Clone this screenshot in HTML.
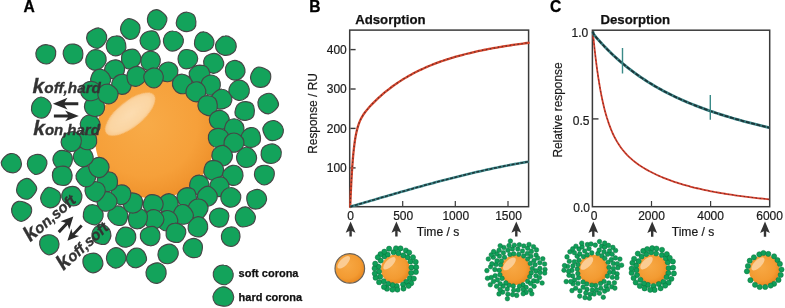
<!DOCTYPE html>
<html><head><meta charset="utf-8"><style>
html,body{margin:0;padding:0;background:#fff;}
svg{display:block;}
</style></head><body>
<svg width="785" height="308" viewBox="0 0 785 308"><defs>
<radialGradient id="coreA" cx="0.42" cy="0.38" r="0.62">
 <stop offset="0" stop-color="#f8ab48"/><stop offset="0.7" stop-color="#f6a03a"/><stop offset="1" stop-color="#ef922c"/>
</radialGradient>
<radialGradient id="hlA" cx="0.5" cy="0.5" r="0.5">
 <stop offset="0" stop-color="#fcdcb0"/><stop offset="0.8" stop-color="#fbd5a2"/><stop offset="1" stop-color="#f9c88c"/>
</radialGradient>
<filter id="soft" x="-20%" y="-20%" width="140%" height="140%"><feGaussianBlur stdDeviation="0.5"/></filter>
<radialGradient id="coreS" cx="0.42" cy="0.40" r="0.62">
 <stop offset="0" stop-color="#f7a844"/><stop offset="0.7" stop-color="#f39b32"/><stop offset="1" stop-color="#e8871f"/>
</radialGradient>
</defs><rect width="785" height="308" fill="#ffffff"/><text x="23.6" y="12.4" font-family="Liberation Sans, sans-serif" font-weight="bold" font-size="15.6" fill="#000" stroke="#000" stroke-width="0.3">A</text><circle cx="155" cy="138.5" r="60" fill="url(#coreA)"/>
<ellipse cx="130.2" cy="114.2" rx="30.5" ry="12.8" transform="rotate(-39 130.2 114.2)" fill="url(#hlA)" filter="url(#soft)"/><path d="M46.8,64.0C44.7,64.2 42.0,63.2 40.3,62.0C38.5,60.7 36.8,58.6 36.2,56.5C35.7,54.4 35.9,51.5 36.9,49.6C37.9,47.8 40.2,46.2 42.1,45.4C44.0,44.6 46.5,44.5 48.5,45.0C50.6,45.4 53.4,46.5 54.5,48.2C55.7,49.8 55.9,52.8 55.6,54.9C55.3,57.1 54.2,59.4 52.7,60.9C51.3,62.4 48.8,63.8 46.8,64.0Z" fill="#13a35b" stroke="#464646" stroke-width="1.15"/><path d="M82.9,53.7C83.0,55.9 82.4,58.7 81.1,60.4C79.8,62.1 77.2,63.3 75.0,63.7C72.9,64.1 70.0,63.9 68.2,62.9C66.4,61.9 64.9,59.5 64.1,57.5C63.3,55.5 62.8,52.9 63.4,50.8C64.0,48.8 65.7,46.3 67.5,45.2C69.4,44.0 72.2,43.8 74.4,44.1C76.6,44.5 79.2,45.6 80.6,47.2C82.1,48.8 82.8,51.5 82.9,53.7Z" fill="#13a35b" stroke="#464646" stroke-width="1.15"/><path d="M92.5,29.7C94.5,28.7 97.0,27.6 99.1,28.0C101.1,28.3 103.6,30.0 104.9,31.8C106.2,33.5 106.9,36.2 106.7,38.3C106.6,40.3 105.4,42.6 104.0,44.2C102.7,45.9 100.6,47.9 98.5,48.3C96.5,48.6 93.7,47.6 91.8,46.4C89.9,45.3 88.1,43.3 87.3,41.2C86.6,39.2 86.5,36.1 87.3,34.2C88.2,32.3 90.6,30.7 92.5,29.7Z" fill="#13a35b" stroke="#464646" stroke-width="1.15"/><path d="M127.6,18.8C129.7,18.3 132.5,19.2 134.5,20.2C136.4,21.3 138.7,23.0 139.5,25.0C140.3,26.9 140.1,29.7 139.5,31.9C138.8,34.0 137.5,36.5 135.7,37.8C133.9,39.0 130.8,39.7 128.7,39.3C126.6,38.9 124.5,37.1 123.1,35.5C121.7,33.8 120.6,31.5 120.5,29.5C120.4,27.5 121.1,25.0 122.3,23.2C123.5,21.4 125.6,19.3 127.6,18.8Z" fill="#13a35b" stroke="#464646" stroke-width="1.15"/><path d="M125.6,43.8C126.1,46.0 126.0,48.8 125.0,50.6C124.0,52.5 121.7,54.2 119.7,55.0C117.7,55.8 115.0,56.1 113.0,55.5C111.0,54.9 108.9,53.1 107.7,51.3C106.6,49.5 106.1,46.9 106.3,44.7C106.6,42.6 107.7,40.1 109.2,38.6C110.7,37.1 113.4,36.1 115.5,36.0C117.7,35.8 120.7,36.4 122.3,37.7C124.0,39.0 125.2,41.7 125.6,43.8Z" fill="#13a35b" stroke="#464646" stroke-width="1.15"/><path d="M91.6,50.5C93.6,49.5 96.6,49.4 98.8,50.0C100.9,50.6 103.4,52.2 104.7,54.0C105.9,55.8 106.4,58.8 106.1,61.0C105.8,63.1 104.3,65.2 102.7,66.8C101.2,68.4 99.0,70.1 96.8,70.3C94.7,70.6 91.7,69.8 89.9,68.6C88.1,67.3 86.4,64.8 85.9,62.6C85.4,60.5 86.0,57.7 86.9,55.7C87.9,53.7 89.7,51.4 91.6,50.5Z" fill="#13a35b" stroke="#464646" stroke-width="1.15"/><path d="M128.8,49.6C131.0,49.1 133.8,48.9 135.7,49.8C137.6,50.7 139.5,53.0 140.2,55.1C141.0,57.1 141.0,59.8 140.3,61.8C139.6,63.8 137.9,65.6 136.2,66.9C134.4,68.1 131.9,69.4 129.8,69.3C127.6,69.2 124.7,67.8 123.3,66.2C121.9,64.6 121.6,61.8 121.6,59.5C121.5,57.3 121.5,54.5 122.8,52.8C124.0,51.2 126.7,50.2 128.8,49.6Z" fill="#13a35b" stroke="#464646" stroke-width="1.15"/><path d="M148.9,25.1C147.8,23.3 147.2,20.8 147.4,18.7C147.6,16.6 148.6,13.9 150.1,12.4C151.6,10.9 154.5,9.6 156.6,9.6C158.7,9.6 161.0,11.2 162.8,12.6C164.5,13.9 166.4,15.9 166.9,17.8C167.3,19.8 166.3,22.4 165.3,24.4C164.3,26.3 162.8,28.6 160.9,29.4C159.0,30.3 156.0,30.0 154.0,29.3C152.0,28.6 150.1,26.9 148.9,25.1Z" fill="#13a35b" stroke="#464646" stroke-width="1.15"/><path d="M193.7,14.8C195.2,16.4 195.8,19.2 195.9,21.5C196.1,23.7 195.7,26.7 194.4,28.3C193.1,30.0 190.3,31.1 188.2,31.5C186.1,31.8 183.6,31.3 181.7,30.4C179.8,29.5 177.5,27.8 176.7,25.9C176.0,24.1 176.3,21.3 177.0,19.3C177.7,17.3 179.1,15.1 180.8,14.0C182.5,12.8 185.0,12.1 187.2,12.2C189.3,12.4 192.2,13.3 193.7,14.8Z" fill="#13a35b" stroke="#464646" stroke-width="1.15"/><path d="M142.7,34.4C144.0,32.9 146.2,31.7 148.3,31.2C150.4,30.8 153.3,30.5 155.1,31.5C156.9,32.4 158.3,35.0 159.1,37.1C159.9,39.2 160.5,42.0 159.9,44.0C159.2,46.1 157.2,48.5 155.3,49.5C153.3,50.5 150.5,50.6 148.4,50.2C146.2,49.7 143.8,48.5 142.5,46.9C141.1,45.3 140.0,42.6 140.0,40.6C140.1,38.5 141.3,36.0 142.7,34.4Z" fill="#13a35b" stroke="#464646" stroke-width="1.15"/><path d="M166.8,33.1C168.4,31.8 171.1,30.9 173.3,31.0C175.5,31.0 178.0,32.0 179.7,33.5C181.4,34.9 183.1,37.4 183.4,39.5C183.7,41.6 182.7,44.4 181.5,46.2C180.3,48.0 178.1,49.7 176.1,50.4C174.1,51.1 171.2,51.3 169.2,50.5C167.3,49.7 165.5,47.5 164.5,45.6C163.6,43.7 163.1,41.1 163.5,39.0C163.9,37.0 165.1,34.4 166.8,33.1Z" fill="#13a35b" stroke="#464646" stroke-width="1.15"/><path d="M213.9,40.6C214.2,42.6 213.7,45.6 212.5,47.3C211.3,49.0 208.9,50.3 206.9,50.9C204.9,51.5 202.3,51.8 200.3,51.1C198.4,50.4 196.1,48.6 195.1,46.7C194.2,44.9 194.4,42.2 194.8,40.1C195.3,38.0 196.2,35.4 197.8,34.1C199.3,32.7 202.2,31.7 204.3,31.9C206.4,32.0 208.7,33.5 210.3,35.0C211.9,36.4 213.5,38.5 213.9,40.6Z" fill="#13a35b" stroke="#464646" stroke-width="1.15"/><path d="M219.1,38.9C220.7,37.4 223.1,36.0 225.2,35.9C227.3,35.7 229.9,36.8 231.7,38.1C233.5,39.3 235.3,41.4 235.9,43.5C236.5,45.5 236.2,48.6 235.2,50.4C234.2,52.3 231.8,53.8 229.9,54.6C227.9,55.3 225.5,55.5 223.4,55.1C221.4,54.6 218.9,53.4 217.6,51.7C216.3,50.0 215.3,47.1 215.5,45.0C215.8,42.8 217.5,40.4 219.1,38.9Z" fill="#13a35b" stroke="#464646" stroke-width="1.15"/><path d="M150.4,70.9C148.3,70.9 145.6,70.0 144.0,68.7C142.4,67.3 141.2,64.7 140.9,62.6C140.6,60.5 141.0,57.9 142.1,56.1C143.1,54.3 145.3,52.5 147.2,51.8C149.2,51.1 151.9,51.1 153.9,51.8C155.9,52.5 158.2,54.2 159.2,56.0C160.3,57.8 160.5,60.7 160.1,62.7C159.6,64.8 158.4,67.2 156.8,68.5C155.2,69.9 152.6,70.9 150.4,70.9Z" fill="#13a35b" stroke="#464646" stroke-width="1.15"/><path d="M188.8,49.7C190.9,50.0 193.5,50.8 194.9,52.3C196.4,53.8 197.7,56.5 197.7,58.6C197.8,60.7 196.5,63.3 195.2,65.0C193.8,66.6 191.6,67.9 189.5,68.4C187.4,68.9 184.5,69.1 182.7,68.1C180.9,67.2 179.3,64.6 178.6,62.6C177.9,60.6 177.8,58.1 178.4,56.1C179.0,54.1 180.5,51.7 182.3,50.6C184.0,49.6 186.7,49.4 188.8,49.7Z" fill="#13a35b" stroke="#464646" stroke-width="1.15"/><path d="M210.4,54.0C212.5,53.4 215.1,53.2 217.0,53.9C219.0,54.6 220.9,56.5 222.0,58.3C223.1,60.1 224.0,62.9 223.7,65.0C223.3,67.1 221.4,69.3 219.7,70.7C218.0,72.1 215.4,73.5 213.3,73.4C211.2,73.3 208.8,71.7 207.2,70.2C205.6,68.7 204.3,66.6 203.9,64.5C203.5,62.4 203.7,59.5 204.8,57.8C205.9,56.0 208.4,54.7 210.4,54.0Z" fill="#13a35b" stroke="#464646" stroke-width="1.15"/><path d="M122.4,62.9C123.8,64.5 124.6,67.2 124.6,69.2C124.6,71.3 123.7,73.7 122.4,75.4C121.2,77.1 119.0,78.9 117.0,79.3C115.0,79.7 112.4,78.9 110.4,77.9C108.5,76.9 106.3,75.2 105.4,73.3C104.5,71.3 104.4,68.2 105.2,66.2C105.9,64.2 108.1,62.4 110.0,61.3C111.9,60.3 114.3,59.7 116.4,59.9C118.5,60.2 121.0,61.4 122.4,62.9Z" fill="#13a35b" stroke="#464646" stroke-width="1.15"/><path d="M171.5,62.5C173.6,63.2 176.0,65.0 177.0,66.9C178.0,68.8 178.1,71.7 177.6,73.8C177.1,75.8 175.7,78.0 174.1,79.3C172.4,80.7 170.0,81.6 167.9,81.7C165.8,81.8 162.9,81.2 161.3,79.8C159.7,78.5 158.7,75.7 158.5,73.6C158.2,71.5 158.5,68.9 159.6,67.0C160.6,65.2 162.7,63.5 164.7,62.7C166.7,62.0 169.5,61.8 171.5,62.5Z" fill="#13a35b" stroke="#464646" stroke-width="1.15"/><path d="M190.9,79.3C189.8,77.3 188.8,74.5 189.2,72.5C189.7,70.5 191.8,68.3 193.5,67.1C195.2,65.9 197.5,65.2 199.7,65.1C201.8,65.1 204.7,65.3 206.4,66.6C208.1,67.9 209.4,70.7 209.8,72.9C210.1,75.1 209.7,78.1 208.5,79.9C207.3,81.8 204.8,83.1 202.7,83.8C200.6,84.6 197.7,85.1 195.7,84.3C193.8,83.5 192.0,81.2 190.9,79.3Z" fill="#13a35b" stroke="#464646" stroke-width="1.15"/><path d="M243.6,65.7C244.6,67.6 245.4,70.3 245.0,72.4C244.5,74.5 242.9,77.1 241.1,78.3C239.4,79.6 236.5,80.3 234.3,80.1C232.2,79.9 229.6,78.7 228.1,77.2C226.6,75.7 225.6,73.2 225.4,71.1C225.2,69.0 225.7,66.3 226.9,64.6C228.0,62.9 230.3,61.3 232.3,60.8C234.3,60.2 236.9,60.5 238.8,61.4C240.7,62.2 242.6,63.9 243.6,65.7Z" fill="#13a35b" stroke="#464646" stroke-width="1.15"/><path d="M252.3,71.9C253.4,70.0 255.3,67.8 257.3,67.2C259.2,66.6 261.9,67.5 264.0,68.3C266.1,69.1 268.6,70.3 269.7,72.1C270.8,73.9 270.9,76.9 270.5,79.1C270.0,81.3 268.7,83.8 267.0,85.2C265.2,86.6 262.4,87.5 260.2,87.4C257.9,87.3 255.1,86.3 253.5,84.8C251.9,83.3 250.8,80.6 250.6,78.4C250.3,76.3 251.1,73.8 252.3,71.9Z" fill="#13a35b" stroke="#464646" stroke-width="1.15"/><path d="M110.7,80.3C110.5,82.4 108.8,84.8 107.3,86.2C105.7,87.7 103.5,88.9 101.4,89.2C99.3,89.4 96.5,89.0 94.7,87.8C93.0,86.7 91.4,84.2 90.9,82.1C90.3,80.1 90.7,77.4 91.6,75.4C92.4,73.4 94.1,71.0 96.0,70.0C97.9,69.1 101.0,69.1 103.1,69.7C105.1,70.4 107.2,72.1 108.5,73.9C109.7,75.6 110.9,78.3 110.7,80.3Z" fill="#13a35b" stroke="#464646" stroke-width="1.15"/><path d="M121.6,94.4C119.5,94.3 117.0,93.0 115.3,91.5C113.6,90.0 112.0,87.7 111.6,85.6C111.3,83.6 112.2,80.8 113.4,79.0C114.6,77.2 116.7,75.7 118.7,74.9C120.6,74.2 123.3,74.0 125.4,74.7C127.4,75.3 129.8,77.1 130.8,79.0C131.8,80.8 131.6,83.6 131.2,85.8C130.8,88.0 129.9,90.6 128.3,92.0C126.7,93.4 123.8,94.5 121.6,94.4Z" fill="#13a35b" stroke="#464646" stroke-width="1.15"/><path d="M145.4,71.4C146.5,73.3 147.0,76.4 146.4,78.4C145.9,80.4 143.8,82.3 142.1,83.6C140.4,85.0 138.1,86.3 136.0,86.4C133.9,86.5 130.9,85.5 129.4,84.1C127.9,82.6 127.2,79.8 127.0,77.7C126.8,75.5 127.0,73.0 128.1,71.2C129.1,69.5 131.3,67.8 133.3,67.1C135.2,66.4 138.0,66.3 140.0,67.0C142.0,67.7 144.3,69.5 145.4,71.4Z" fill="#13a35b" stroke="#464646" stroke-width="1.15"/><path d="M145.1,81.9C144.1,80.0 143.3,77.1 143.9,75.1C144.4,73.1 146.4,71.1 148.2,69.9C149.9,68.7 152.2,67.8 154.3,67.9C156.3,67.9 158.8,68.9 160.3,70.3C161.8,71.6 163.0,74.0 163.3,76.0C163.6,78.0 162.9,80.4 161.9,82.3C160.9,84.2 159.1,86.6 157.1,87.3C155.1,88.1 152.0,87.8 150.0,86.9C148.0,86.0 146.1,83.9 145.1,81.9Z" fill="#13a35b" stroke="#464646" stroke-width="1.15"/><path d="M190.9,89.1C189.9,90.9 187.6,92.5 185.6,93.2C183.6,93.9 180.9,93.8 178.9,93.1C177.0,92.3 174.9,90.6 173.9,88.7C172.8,86.9 172.1,84.2 172.5,82.1C172.8,80.0 174.4,77.5 176.1,76.2C177.8,74.9 180.5,74.1 182.6,74.2C184.7,74.3 187.1,75.4 188.7,76.8C190.3,78.1 191.7,80.4 192.0,82.5C192.4,84.5 192.0,87.3 190.9,89.1Z" fill="#13a35b" stroke="#464646" stroke-width="1.15"/><path d="M217.6,92.0C216.2,93.6 213.6,95.0 211.5,95.2C209.4,95.3 206.6,94.4 204.9,93.1C203.3,91.8 201.9,89.5 201.4,87.5C200.9,85.5 201.0,82.9 201.8,81.0C202.6,79.1 204.4,77.1 206.3,76.2C208.2,75.2 210.9,74.8 213.0,75.2C215.1,75.7 217.7,77.3 218.9,79.0C220.1,80.8 220.5,83.6 220.3,85.8C220.1,87.9 219.1,90.5 217.6,92.0Z" fill="#13a35b" stroke="#464646" stroke-width="1.15"/><path d="M199.2,82.1C201.2,82.7 203.3,84.7 204.4,86.5C205.5,88.3 206.0,91.0 205.7,93.1C205.4,95.2 204.2,97.7 202.6,99.1C201.1,100.6 198.4,101.8 196.3,101.9C194.2,101.9 191.6,100.8 189.9,99.4C188.2,98.1 186.5,95.8 186.0,93.8C185.6,91.7 186.2,88.8 187.3,87.0C188.3,85.2 190.4,83.6 192.4,82.7C194.4,81.9 197.2,81.5 199.2,82.1Z" fill="#13a35b" stroke="#464646" stroke-width="1.15"/><path d="M211.6,96.7C212.1,94.7 214.1,92.7 215.8,91.5C217.5,90.2 219.9,89.1 222.0,89.2C224.1,89.2 226.6,90.3 228.2,91.8C229.8,93.2 231.5,95.5 231.8,97.7C232.2,99.8 231.5,102.9 230.3,104.7C229.1,106.5 226.5,107.7 224.4,108.4C222.3,109.0 219.5,109.4 217.5,108.6C215.5,107.8 213.3,105.7 212.3,103.7C211.4,101.7 211.0,98.8 211.6,96.7Z" fill="#13a35b" stroke="#464646" stroke-width="1.15"/><path d="M238.5,100.4C236.4,100.2 234.1,98.8 232.6,97.3C231.0,95.8 229.2,93.6 228.9,91.5C228.6,89.4 229.6,86.6 230.8,84.8C232.1,82.9 234.3,81.1 236.4,80.5C238.5,79.9 241.5,80.2 243.4,81.1C245.4,82.1 247.4,84.1 248.3,86.1C249.3,88.1 249.7,90.9 249.1,93.0C248.6,95.1 246.8,97.4 245.0,98.6C243.3,99.9 240.5,100.6 238.5,100.4Z" fill="#13a35b" stroke="#464646" stroke-width="1.15"/><path d="M252.8,117.1C251.6,118.7 248.9,119.7 246.9,120.1C244.8,120.5 242.4,120.3 240.5,119.5C238.5,118.6 236.1,116.9 235.3,115.0C234.6,113.1 235.1,110.2 235.8,108.2C236.5,106.2 238.0,104.2 239.7,103.1C241.4,101.9 243.8,101.5 246.0,101.6C248.1,101.7 251.0,102.4 252.4,103.9C253.8,105.4 254.3,108.3 254.4,110.5C254.4,112.7 254.1,115.5 252.8,117.1Z" fill="#13a35b" stroke="#464646" stroke-width="1.15"/><path d="M278.5,105.0C278.3,107.0 276.3,109.1 274.6,110.6C272.9,112.1 270.7,113.7 268.6,113.9C266.5,114.0 263.7,112.8 262.0,111.5C260.2,110.1 258.6,107.7 258.2,105.6C257.7,103.4 258.0,100.4 259.1,98.5C260.2,96.6 262.5,95.0 264.6,94.2C266.7,93.4 269.6,93.0 271.6,93.7C273.5,94.5 275.1,96.7 276.3,98.6C277.5,100.5 278.8,103.0 278.5,105.0Z" fill="#13a35b" stroke="#464646" stroke-width="1.15"/><path d="M208.9,95.7C211.1,95.9 213.8,97.0 215.2,98.5C216.6,100.1 217.1,102.8 217.3,105.0C217.4,107.1 217.2,109.8 216.1,111.6C214.9,113.4 212.4,115.4 210.3,115.8C208.2,116.2 205.6,115.1 203.6,114.1C201.7,113.0 199.8,111.4 198.9,109.5C198.0,107.7 197.6,104.9 198.2,102.8C198.7,100.7 200.3,98.2 202.0,97.0C203.8,95.8 206.7,95.4 208.9,95.7Z" fill="#13a35b" stroke="#464646" stroke-width="1.15"/><path d="M220.0,129.8C217.9,129.8 215.4,129.1 213.7,127.9C212.0,126.7 210.2,124.5 209.7,122.4C209.1,120.4 209.4,117.4 210.4,115.5C211.4,113.6 213.7,111.9 215.7,111.1C217.7,110.4 220.4,110.2 222.4,110.8C224.4,111.5 226.6,113.1 227.8,114.9C228.9,116.6 229.5,119.3 229.2,121.4C228.9,123.5 227.7,126.0 226.2,127.4C224.7,128.8 222.1,129.7 220.0,129.8Z" fill="#13a35b" stroke="#464646" stroke-width="1.15"/><path d="M242.7,134.0C241.7,135.9 239.7,138.2 237.7,138.9C235.7,139.6 232.8,139.0 230.7,138.3C228.7,137.5 226.2,135.9 225.2,134.1C224.2,132.3 224.3,129.5 224.7,127.3C225.1,125.2 226.0,122.6 227.6,121.2C229.1,119.8 231.9,118.7 234.1,118.7C236.3,118.7 239.0,119.8 240.6,121.2C242.3,122.6 243.6,125.1 243.9,127.3C244.3,129.4 243.8,132.0 242.7,134.0Z" fill="#13a35b" stroke="#464646" stroke-width="1.15"/><path d="M208.4,138.8C208.2,136.7 208.6,133.7 209.9,132.0C211.1,130.3 213.8,129.1 215.9,128.6C218.0,128.2 220.4,128.4 222.4,129.2C224.3,129.9 226.7,131.5 227.7,133.3C228.8,135.2 229.2,138.2 228.6,140.3C228.1,142.4 226.2,144.7 224.4,145.9C222.5,147.1 220.0,147.8 217.8,147.7C215.6,147.5 213.0,146.6 211.4,145.1C209.8,143.7 208.7,141.0 208.4,138.8Z" fill="#13a35b" stroke="#464646" stroke-width="1.15"/><path d="M254.5,146.7C252.5,147.5 249.9,147.5 247.9,147.0C245.9,146.4 243.4,145.0 242.3,143.3C241.1,141.6 240.7,138.7 241.0,136.6C241.4,134.5 242.6,132.3 244.1,130.8C245.6,129.3 248.0,127.9 250.2,127.6C252.3,127.4 255.3,128.1 257.0,129.4C258.7,130.7 259.7,133.4 260.2,135.6C260.6,137.8 260.7,140.6 259.8,142.4C258.8,144.3 256.5,145.9 254.5,146.7Z" fill="#13a35b" stroke="#464646" stroke-width="1.15"/><path d="M225.2,148.0C224.1,146.2 223.8,143.2 224.2,141.1C224.6,139.0 226.1,136.7 227.7,135.3C229.3,134.0 231.8,133.0 233.9,133.0C235.9,133.0 238.3,134.0 240.0,135.3C241.6,136.6 243.4,138.6 243.8,140.7C244.3,142.7 243.7,145.5 242.7,147.3C241.7,149.1 239.5,150.7 237.6,151.5C235.6,152.3 233.0,152.5 231.0,151.9C228.9,151.3 226.4,149.8 225.2,148.0Z" fill="#13a35b" stroke="#464646" stroke-width="1.15"/><path d="M268.6,139.7C266.8,138.8 265.3,136.4 264.4,134.4C263.5,132.4 262.4,129.6 263.0,127.6C263.5,125.6 265.7,123.5 267.5,122.3C269.4,121.1 272.0,120.3 274.1,120.5C276.2,120.7 278.7,122.1 280.2,123.6C281.8,125.1 283.2,127.6 283.4,129.8C283.6,131.9 282.8,134.8 281.5,136.6C280.2,138.3 277.7,139.7 275.5,140.2C273.4,140.7 270.5,140.7 268.6,139.7Z" fill="#13a35b" stroke="#464646" stroke-width="1.15"/><path d="M261.1,155.1C260.8,152.9 261.3,150.0 262.5,148.2C263.7,146.5 266.2,145.1 268.4,144.5C270.5,143.9 273.2,143.7 275.2,144.5C277.3,145.3 279.6,147.2 280.6,149.2C281.5,151.1 281.5,154.1 280.9,156.2C280.2,158.2 278.7,160.4 277.0,161.6C275.3,162.8 272.8,163.6 270.7,163.5C268.5,163.5 265.8,162.7 264.2,161.3C262.6,159.9 261.3,157.3 261.1,155.1Z" fill="#13a35b" stroke="#464646" stroke-width="1.15"/><path d="M242.2,148.4C244.2,147.4 247.3,147.1 249.3,147.7C251.4,148.3 253.5,150.2 254.7,152.0C255.9,153.8 256.7,156.2 256.6,158.3C256.5,160.4 255.5,162.9 254.1,164.4C252.7,165.9 250.3,167.0 248.2,167.3C246.1,167.6 243.3,167.4 241.4,166.3C239.6,165.3 237.7,162.9 237.1,160.8C236.4,158.7 236.5,155.8 237.4,153.7C238.3,151.7 240.2,149.5 242.2,148.4Z" fill="#13a35b" stroke="#464646" stroke-width="1.15"/><path d="M264.1,185.0C262.0,184.9 259.5,183.4 257.9,181.9C256.3,180.4 255.0,178.1 254.6,176.0C254.3,173.9 254.6,171.0 255.7,169.2C256.8,167.5 259.4,166.2 261.4,165.6C263.5,165.1 265.9,165.1 267.9,165.8C269.9,166.5 272.5,167.9 273.5,169.7C274.5,171.5 274.4,174.5 273.9,176.6C273.4,178.7 272.1,180.9 270.5,182.3C268.8,183.7 266.2,185.1 264.1,185.0Z" fill="#13a35b" stroke="#464646" stroke-width="1.15"/><path d="M247.7,194.1C248.7,192.3 251.2,191.0 253.2,190.3C255.2,189.5 257.8,189.2 259.7,189.8C261.7,190.4 263.9,192.1 265.0,193.9C266.2,195.7 266.8,198.5 266.4,200.5C266.1,202.6 264.5,204.8 262.9,206.2C261.3,207.6 259.0,208.9 256.8,209.0C254.7,209.2 251.7,208.5 250.0,207.2C248.4,205.8 247.4,203.1 247.0,200.9C246.6,198.7 246.7,195.9 247.7,194.1Z" fill="#13a35b" stroke="#464646" stroke-width="1.15"/><path d="M235.8,214.4C236.4,212.4 237.8,210.2 239.5,209.0C241.2,207.7 243.9,206.7 245.9,206.9C248.0,207.1 250.2,208.8 251.7,210.4C253.3,212.0 255.0,214.1 255.3,216.2C255.6,218.4 254.7,221.5 253.4,223.1C252.0,224.8 249.4,225.6 247.2,226.2C245.0,226.7 242.2,227.3 240.3,226.4C238.5,225.6 236.7,223.0 236.0,221.0C235.2,219.0 235.2,216.4 235.8,214.4Z" fill="#13a35b" stroke="#464646" stroke-width="1.15"/><path d="M223.7,145.4C225.8,145.8 228.0,147.5 229.5,149.1C231.0,150.7 232.3,153.1 232.5,155.2C232.6,157.4 231.6,160.1 230.3,161.8C229.0,163.6 226.5,165.3 224.5,165.7C222.4,166.1 219.7,165.2 217.8,164.1C215.8,163.1 213.7,161.4 212.8,159.5C211.9,157.5 211.6,154.4 212.3,152.4C213.0,150.3 215.0,148.1 216.9,147.0C218.8,145.8 221.6,145.1 223.7,145.4Z" fill="#13a35b" stroke="#464646" stroke-width="1.15"/><path d="M204.3,168.1C204.8,166.0 205.9,163.5 207.5,162.3C209.1,161.0 211.8,160.4 214.0,160.4C216.2,160.5 218.9,161.3 220.5,162.7C222.1,164.1 223.3,166.8 223.6,168.9C223.8,171.1 223.1,173.9 221.9,175.7C220.7,177.4 218.4,178.7 216.3,179.3C214.3,180.0 211.5,180.3 209.6,179.5C207.6,178.8 205.4,176.7 204.5,174.8C203.6,172.9 203.8,170.2 204.3,168.1Z" fill="#13a35b" stroke="#464646" stroke-width="1.15"/><path d="M237.5,184.5C235.6,185.4 232.5,185.6 230.5,184.9C228.4,184.3 226.6,182.4 225.3,180.6C224.0,178.9 222.4,176.3 222.6,174.3C222.7,172.3 224.6,169.9 226.2,168.4C227.8,167.0 230.0,165.7 232.1,165.4C234.2,165.1 237.0,165.5 238.8,166.7C240.6,167.8 242.1,170.3 242.7,172.4C243.3,174.5 243.0,177.2 242.1,179.2C241.3,181.3 239.4,183.6 237.5,184.5Z" fill="#13a35b" stroke="#464646" stroke-width="1.15"/><path d="M193.5,176.9C195.2,175.6 197.9,174.9 200.0,175.1C202.1,175.2 204.5,176.4 206.0,177.8C207.5,179.2 208.5,181.6 208.9,183.6C209.2,185.7 209.1,188.5 208.1,190.4C207.0,192.2 204.6,194.0 202.5,194.6C200.4,195.2 197.6,194.9 195.6,194.0C193.6,193.1 191.3,191.4 190.4,189.5C189.4,187.5 189.4,184.7 190.0,182.6C190.5,180.5 191.9,178.1 193.5,176.9Z" fill="#13a35b" stroke="#464646" stroke-width="1.15"/><path d="M218.4,196.6C216.3,196.4 213.4,195.6 212.0,194.1C210.6,192.6 210.1,189.7 210.0,187.5C209.9,185.3 210.1,182.7 211.3,181.0C212.5,179.3 214.9,178.0 217.0,177.5C219.1,176.9 222.0,176.7 223.8,177.5C225.7,178.4 227.5,180.8 228.3,182.8C229.1,184.8 229.3,187.4 228.8,189.4C228.2,191.5 226.7,193.7 224.9,194.9C223.2,196.1 220.6,196.7 218.4,196.6Z" fill="#13a35b" stroke="#464646" stroke-width="1.15"/><path d="M197.8,193.9C198.4,191.8 200.3,189.8 202.1,188.5C203.9,187.2 206.5,186.0 208.6,186.2C210.6,186.4 212.9,188.2 214.4,189.8C215.8,191.3 217.2,193.6 217.3,195.6C217.5,197.7 216.7,200.2 215.5,201.9C214.3,203.6 212.2,205.0 210.2,205.7C208.2,206.3 205.3,206.6 203.4,205.8C201.4,205.0 199.4,202.8 198.4,200.8C197.5,198.9 197.2,195.9 197.8,193.9Z" fill="#13a35b" stroke="#464646" stroke-width="1.15"/><path d="M234.9,206.3C233.0,207.1 230.4,207.5 228.3,206.9C226.2,206.4 223.8,204.9 222.6,203.2C221.3,201.4 220.6,198.5 220.8,196.3C221.1,194.1 222.4,191.5 224.0,190.1C225.7,188.6 228.4,187.5 230.5,187.5C232.6,187.4 235.1,188.6 236.8,189.8C238.5,191.1 240.2,193.2 240.7,195.2C241.1,197.2 240.6,199.9 239.7,201.8C238.7,203.6 236.8,205.4 234.9,206.3Z" fill="#13a35b" stroke="#464646" stroke-width="1.15"/><path d="M177.1,195.6C177.5,193.5 179.2,191.3 180.8,190.0C182.5,188.6 184.8,187.7 187.0,187.6C189.1,187.6 192.0,188.1 193.6,189.4C195.1,190.7 195.8,193.5 196.2,195.6C196.6,197.8 196.9,200.5 195.9,202.4C195.0,204.3 192.7,206.3 190.6,207.1C188.5,207.9 185.5,208.0 183.4,207.2C181.4,206.4 179.6,204.2 178.5,202.2C177.5,200.3 176.7,197.6 177.1,195.6Z" fill="#13a35b" stroke="#464646" stroke-width="1.15"/><path d="M159.0,200.9C159.7,198.8 161.4,196.6 163.3,195.4C165.1,194.3 168.0,193.4 170.1,193.7C172.3,194.0 174.8,195.7 176.2,197.4C177.5,199.1 178.1,201.7 178.2,203.9C178.3,206.1 177.9,209.0 176.6,210.6C175.3,212.3 172.6,213.5 170.4,213.8C168.3,214.2 165.6,213.9 163.6,212.9C161.7,211.9 159.7,209.8 159.0,207.8C158.2,205.8 158.3,202.9 159.0,200.9Z" fill="#13a35b" stroke="#464646" stroke-width="1.15"/><path d="M163.2,204.3C163.2,206.4 162.0,209.1 160.6,210.7C159.1,212.3 156.6,213.6 154.5,213.9C152.3,214.2 149.6,213.8 147.8,212.7C146.0,211.6 144.2,209.3 143.5,207.3C142.9,205.4 143.2,202.7 143.9,200.7C144.7,198.7 146.2,196.3 148.0,195.4C149.8,194.4 152.6,194.5 154.7,194.9C156.8,195.3 159.2,196.3 160.6,197.8C162.0,199.4 163.2,202.1 163.2,204.3Z" fill="#13a35b" stroke="#464646" stroke-width="1.15"/><path d="M191.8,201.2C193.4,199.8 196.0,199.0 198.2,199.0C200.4,199.0 203.2,199.8 204.9,201.3C206.5,202.7 208.0,205.5 208.1,207.6C208.3,209.8 207.0,212.2 205.8,214.1C204.6,216.0 202.9,218.1 200.9,218.8C198.9,219.5 195.9,219.2 193.9,218.3C192.0,217.4 190.4,215.3 189.5,213.4C188.5,211.5 187.9,208.9 188.2,206.9C188.6,204.9 190.1,202.5 191.8,201.2Z" fill="#13a35b" stroke="#464646" stroke-width="1.15"/><path d="M184.1,224.2C182.0,224.4 179.4,224.2 177.5,223.1C175.7,222.0 173.6,219.7 173.0,217.7C172.5,215.6 173.3,212.9 174.2,210.8C175.1,208.8 176.6,206.4 178.5,205.5C180.4,204.5 183.5,204.3 185.6,204.9C187.6,205.5 189.5,207.4 190.8,209.2C192.1,211.0 193.5,213.4 193.5,215.5C193.4,217.6 191.9,220.3 190.3,221.8C188.8,223.2 186.2,224.0 184.1,224.2Z" fill="#13a35b" stroke="#464646" stroke-width="1.15"/><path d="M176.6,216.2C177.6,218.1 178.0,221.0 177.5,223.1C176.9,225.2 175.1,227.2 173.3,228.6C171.5,229.9 169.0,231.0 166.9,231.0C164.7,231.0 161.9,229.8 160.3,228.3C158.7,226.8 157.4,224.0 157.2,221.9C157.0,219.7 158.0,217.1 159.3,215.2C160.5,213.4 162.6,211.5 164.6,210.9C166.6,210.3 169.5,210.7 171.5,211.6C173.5,212.5 175.6,214.2 176.6,216.2Z" fill="#13a35b" stroke="#464646" stroke-width="1.15"/><path d="M161.2,225.7C159.8,227.2 157.7,228.6 155.7,229.0C153.7,229.4 151.0,229.1 149.2,228.1C147.4,227.1 145.8,225.0 145.0,223.1C144.2,221.1 143.9,218.4 144.5,216.4C145.1,214.4 146.9,212.0 148.7,210.9C150.5,209.8 153.4,209.4 155.5,209.8C157.6,210.2 159.9,211.6 161.4,213.3C162.8,214.9 164.1,217.5 164.0,219.6C164.0,221.6 162.6,224.1 161.2,225.7Z" fill="#13a35b" stroke="#464646" stroke-width="1.15"/><path d="M194.7,236.3C192.6,235.6 190.2,234.0 189.2,232.2C188.1,230.4 187.9,227.4 188.3,225.4C188.7,223.3 190.2,221.2 191.8,219.7C193.4,218.2 195.8,216.7 197.9,216.6C200.0,216.5 202.9,217.7 204.5,219.1C206.1,220.6 207.3,223.1 207.6,225.2C208.0,227.4 207.5,230.0 206.5,231.8C205.5,233.7 203.5,235.6 201.5,236.4C199.5,237.1 196.7,237.0 194.7,236.3Z" fill="#13a35b" stroke="#464646" stroke-width="1.15"/><path d="M211.1,212.0C212.3,210.4 214.5,209.0 216.5,208.5C218.5,207.9 221.0,208.0 223.0,208.8C225.0,209.5 227.4,211.2 228.3,213.1C229.2,214.9 228.8,217.8 228.2,219.9C227.6,222.0 226.4,224.4 224.7,225.6C223.1,226.8 220.3,227.3 218.2,227.1C216.1,226.8 213.7,225.8 212.3,224.3C210.8,222.9 209.7,220.4 209.5,218.4C209.3,216.3 209.9,213.7 211.1,212.0Z" fill="#13a35b" stroke="#464646" stroke-width="1.15"/><path d="M222.8,241.9C221.7,240.2 221.2,237.7 221.4,235.6C221.6,233.6 222.6,231.2 224.0,229.8C225.5,228.3 227.8,227.2 229.9,227.0C232.0,226.7 234.8,227.2 236.4,228.4C238.1,229.6 239.4,232.1 239.8,234.1C240.3,236.1 240.0,238.6 239.2,240.5C238.4,242.4 236.7,244.6 234.8,245.5C233.0,246.4 230.1,246.6 228.1,246.0C226.1,245.4 224.0,243.7 222.8,241.9Z" fill="#13a35b" stroke="#464646" stroke-width="1.15"/><path d="M190.3,239.0C192.2,238.4 194.9,238.2 196.9,239.0C198.8,239.7 200.9,241.7 201.8,243.6C202.6,245.4 202.5,248.0 202.1,250.1C201.7,252.3 200.9,255.2 199.3,256.4C197.7,257.6 194.6,257.8 192.5,257.6C190.3,257.4 188.1,256.3 186.5,254.9C185.0,253.5 183.4,251.2 183.2,249.2C182.9,247.2 183.8,244.5 185.0,242.8C186.2,241.1 188.3,239.6 190.3,239.0Z" fill="#13a35b" stroke="#464646" stroke-width="1.15"/><path d="M168.8,225.7C170.2,224.3 172.8,223.2 174.8,223.1C176.9,222.9 179.3,223.6 181.1,224.7C182.9,225.8 185.0,227.7 185.6,229.7C186.2,231.6 185.5,234.4 184.6,236.4C183.8,238.4 182.2,240.8 180.3,241.7C178.4,242.7 175.6,242.6 173.4,242.1C171.2,241.6 168.6,240.4 167.3,238.7C166.1,236.9 165.9,234.0 166.1,231.8C166.4,229.7 167.3,227.2 168.8,225.7Z" fill="#13a35b" stroke="#464646" stroke-width="1.15"/><path d="M168.0,263.7C165.9,263.8 163.0,263.2 161.4,261.9C159.7,260.6 158.4,257.9 158.1,255.8C157.7,253.6 158.4,250.9 159.5,249.1C160.7,247.4 162.8,245.9 164.8,245.1C166.7,244.3 169.4,243.8 171.5,244.4C173.5,245.0 176.0,246.9 177.1,248.7C178.2,250.6 178.4,253.7 177.9,255.7C177.4,257.8 175.7,259.8 174.0,261.2C172.4,262.5 170.1,263.5 168.0,263.7Z" fill="#13a35b" stroke="#464646" stroke-width="1.15"/><path d="M159.8,238.2C159.3,240.2 158.1,242.5 156.5,243.8C155.0,245.1 152.4,245.8 150.4,245.8C148.3,245.7 146.0,244.8 144.3,243.5C142.7,242.2 141.0,240.1 140.5,238.0C140.0,235.9 140.4,232.8 141.6,231.0C142.7,229.3 145.2,228.1 147.4,227.3C149.5,226.6 152.3,225.9 154.3,226.6C156.2,227.3 158.2,229.6 159.2,231.6C160.1,233.5 160.2,236.1 159.8,238.2Z" fill="#13a35b" stroke="#464646" stroke-width="1.15"/><path d="M141.2,208.8C143.3,209.5 145.8,211.4 146.8,213.3C147.8,215.2 147.5,218.1 147.1,220.2C146.6,222.3 145.7,224.6 144.2,226.0C142.6,227.5 140.1,228.6 138.0,228.8C135.8,228.9 132.8,228.2 131.2,226.8C129.6,225.4 128.8,222.6 128.5,220.5C128.2,218.3 128.4,215.9 129.3,214.0C130.3,212.1 132.1,209.9 134.1,209.0C136.1,208.2 139.1,208.1 141.2,208.8Z" fill="#13a35b" stroke="#464646" stroke-width="1.15"/><path d="M133.2,243.9C131.8,245.4 129.4,246.7 127.3,247.0C125.2,247.4 122.4,247.1 120.5,246.1C118.6,245.0 116.5,242.8 115.9,240.8C115.3,238.7 116.1,236.0 116.9,233.9C117.7,231.9 119.1,229.5 120.9,228.4C122.7,227.3 125.6,227.0 127.8,227.4C130.0,227.8 132.5,229.2 133.9,230.9C135.2,232.6 135.9,235.5 135.8,237.6C135.7,239.8 134.6,242.3 133.2,243.9Z" fill="#13a35b" stroke="#464646" stroke-width="1.15"/><path d="M124.8,253.3C125.7,255.3 126.2,258.0 125.7,260.0C125.3,262.0 123.7,264.2 122.0,265.5C120.3,266.9 117.8,268.2 115.7,268.2C113.6,268.1 110.9,266.7 109.4,265.2C107.9,263.7 106.7,261.3 106.5,259.2C106.3,257.1 106.9,254.6 108.0,252.8C109.1,251.0 111.0,248.9 113.0,248.2C115.0,247.5 118.0,247.7 119.9,248.6C121.9,249.4 123.8,251.4 124.8,253.3Z" fill="#13a35b" stroke="#464646" stroke-width="1.15"/><path d="M134.1,248.4C136.1,247.8 139.0,248.0 140.8,248.9C142.7,249.9 144.3,252.0 145.2,254.0C146.1,255.9 146.9,258.7 146.3,260.7C145.8,262.6 143.6,264.5 141.8,265.6C140.0,266.8 137.6,267.9 135.5,267.8C133.4,267.7 130.7,266.6 129.2,265.1C127.6,263.5 126.4,260.8 126.4,258.7C126.3,256.5 127.5,254.1 128.8,252.4C130.1,250.7 132.1,249.0 134.1,248.4Z" fill="#13a35b" stroke="#464646" stroke-width="1.15"/><path d="M157.2,283.4C155.1,283.6 152.4,282.6 150.5,281.4C148.7,280.1 146.9,277.9 146.3,275.7C145.7,273.6 146.0,270.6 147.0,268.7C148.0,266.7 150.2,265.0 152.3,264.1C154.3,263.2 157.1,262.5 159.2,263.0C161.2,263.6 163.7,265.5 164.8,267.3C166.0,269.1 166.4,271.9 166.1,274.0C165.9,276.1 164.8,278.5 163.3,280.1C161.8,281.6 159.4,283.2 157.2,283.4Z" fill="#13a35b" stroke="#464646" stroke-width="1.15"/><path d="M110.2,238.8C109.4,240.8 107.6,243.3 105.7,244.1C103.8,244.9 100.9,244.3 98.8,243.6C96.7,243.0 94.2,241.8 93.1,240.1C92.0,238.4 91.7,235.6 92.0,233.5C92.3,231.5 93.4,229.2 94.8,227.7C96.3,226.2 98.6,224.6 100.7,224.4C102.7,224.2 105.4,225.4 107.1,226.7C108.7,228.0 110.0,230.2 110.5,232.2C111.1,234.2 111.0,236.8 110.2,238.8Z" fill="#13a35b" stroke="#464646" stroke-width="1.15"/><path d="M98.5,271.1C96.7,272.3 93.9,273.1 91.8,272.8C89.8,272.5 87.5,271.0 86.1,269.4C84.6,267.9 83.4,265.8 83.1,263.7C82.8,261.5 82.9,258.5 84.1,256.8C85.3,255.1 88.1,254.0 90.2,253.5C92.3,253.0 95.0,252.9 96.9,253.7C98.8,254.6 100.7,256.7 101.6,258.6C102.6,260.6 103.2,263.4 102.6,265.5C102.1,267.5 100.3,269.9 98.5,271.1Z" fill="#13a35b" stroke="#464646" stroke-width="1.15"/><path d="M110.1,209.5C111.5,207.8 114.0,206.4 116.1,206.0C118.2,205.7 120.9,206.3 122.7,207.3C124.6,208.3 126.4,210.2 127.1,212.1C127.9,214.0 127.9,216.6 127.3,218.6C126.8,220.7 125.6,223.4 123.9,224.5C122.2,225.6 119.1,225.6 117.1,225.2C115.0,224.8 112.9,223.6 111.4,222.1C109.8,220.7 108.0,218.4 107.8,216.3C107.6,214.2 108.7,211.2 110.1,209.5Z" fill="#13a35b" stroke="#464646" stroke-width="1.15"/><path d="M96.2,224.7C94.1,225.2 91.4,224.5 89.4,223.6C87.4,222.7 85.2,221.3 84.2,219.5C83.2,217.7 83.1,215.0 83.5,212.9C83.9,210.7 84.9,208.0 86.5,206.7C88.1,205.3 91.0,204.6 93.2,204.7C95.4,204.8 98.0,205.8 99.6,207.2C101.3,208.7 102.7,211.1 103.1,213.3C103.4,215.5 102.9,218.4 101.7,220.3C100.6,222.2 98.2,224.1 96.2,224.7Z" fill="#13a35b" stroke="#464646" stroke-width="1.15"/><path d="M127.2,211.4C125.4,210.2 123.9,207.8 123.4,205.7C122.9,203.7 123.4,201.2 124.3,199.2C125.1,197.2 126.6,194.7 128.4,193.8C130.3,192.8 133.3,192.8 135.4,193.4C137.6,193.9 140.1,195.4 141.3,197.1C142.5,198.9 142.7,201.7 142.5,203.9C142.3,206.0 141.5,208.6 140.0,210.1C138.6,211.6 136.0,212.7 133.8,213.0C131.7,213.2 128.9,212.6 127.2,211.4Z" fill="#13a35b" stroke="#464646" stroke-width="1.15"/><path d="M119.9,185.0C122.0,184.8 124.6,185.1 126.4,186.1C128.2,187.2 130.0,189.4 130.6,191.3C131.2,193.3 130.7,195.9 130.0,197.9C129.2,199.9 127.7,202.2 125.9,203.2C124.1,204.3 121.2,204.9 119.1,204.4C117.0,203.9 114.8,202.2 113.4,200.5C112.1,198.8 111.0,196.2 111.1,194.1C111.1,191.9 112.2,189.2 113.7,187.7C115.2,186.2 117.8,185.3 119.9,185.0Z" fill="#13a35b" stroke="#464646" stroke-width="1.15"/><path d="M108.8,210.7C106.6,211.3 103.7,211.5 101.8,210.6C99.9,209.6 98.4,207.0 97.6,205.0C96.8,203.0 96.5,200.3 97.2,198.3C97.8,196.3 99.7,194.4 101.5,193.3C103.2,192.2 105.8,191.4 107.8,191.7C109.8,191.9 112.0,193.2 113.6,194.7C115.1,196.2 116.9,198.6 117.1,200.7C117.2,202.8 116.1,205.7 114.8,207.4C113.4,209.0 110.9,210.2 108.8,210.7Z" fill="#13a35b" stroke="#464646" stroke-width="1.15"/><path d="M114.9,174.2C116.4,175.7 117.3,178.5 117.5,180.8C117.7,183.0 117.3,185.9 116.1,187.7C114.9,189.4 112.3,190.8 110.1,191.3C108.0,191.8 105.4,191.5 103.4,190.6C101.4,189.8 99.0,188.1 98.0,186.2C97.0,184.2 96.8,181.2 97.4,179.0C98.0,176.9 99.6,174.3 101.4,173.1C103.3,171.9 106.1,171.6 108.3,171.8C110.6,172.0 113.4,172.7 114.9,174.2Z" fill="#13a35b" stroke="#464646" stroke-width="1.15"/><path d="M96.3,181.7C98.5,181.9 101.3,182.8 102.8,184.4C104.3,186.0 105.4,188.9 105.3,191.1C105.3,193.3 103.9,195.7 102.5,197.4C101.1,199.2 99.0,201.2 97.0,201.7C95.0,202.1 92.2,201.0 90.4,199.8C88.5,198.7 87.0,196.8 86.1,194.9C85.2,193.0 84.6,190.2 85.2,188.2C85.8,186.2 87.9,184.2 89.8,183.1C91.7,182.1 94.2,181.5 96.3,181.7Z" fill="#13a35b" stroke="#464646" stroke-width="1.15"/><path d="M76.0,175.3C76.2,173.3 78.0,171.1 79.6,169.6C81.2,168.1 83.4,166.4 85.4,166.3C87.5,166.1 90.1,167.4 91.8,168.8C93.5,170.1 95.1,172.2 95.6,174.3C96.1,176.3 95.6,179.0 94.7,180.9C93.8,182.9 92.0,185.0 90.0,185.9C88.1,186.8 85.0,187.0 83.0,186.3C81.0,185.6 79.1,183.6 77.9,181.8C76.7,180.0 75.7,177.3 76.0,175.3Z" fill="#13a35b" stroke="#464646" stroke-width="1.15"/><path d="M106.4,173.7C105.1,175.4 102.9,177.0 100.9,177.4C98.9,177.8 96.2,177.2 94.4,176.2C92.6,175.2 90.8,173.4 89.9,171.5C89.0,169.6 88.3,166.8 88.9,164.8C89.4,162.7 91.3,160.5 93.2,159.2C95.0,158.0 97.8,157.1 100.0,157.4C102.2,157.6 104.9,159.0 106.4,160.6C107.9,162.3 109.1,165.1 109.1,167.3C109.1,169.5 107.8,172.0 106.4,173.7Z" fill="#13a35b" stroke="#464646" stroke-width="1.15"/><path d="M76.5,163.9C75.0,162.4 73.7,160.1 73.4,158.0C73.2,155.9 73.7,153.2 74.9,151.5C76.0,149.7 78.3,148.0 80.4,147.4C82.4,146.8 85.3,147.0 87.2,147.9C89.1,148.8 90.9,150.8 91.9,152.7C92.9,154.7 93.7,157.5 93.2,159.5C92.6,161.5 90.6,163.6 88.8,164.8C87.0,166.1 84.5,167.0 82.4,166.9C80.3,166.7 78.0,165.3 76.5,163.9Z" fill="#13a35b" stroke="#464646" stroke-width="1.15"/><path d="M70.5,153.2C71.9,154.8 72.5,157.7 72.4,159.8C72.4,162.0 71.5,164.4 70.2,166.1C68.9,167.8 66.7,169.8 64.7,170.1C62.6,170.5 60.0,169.3 58.1,168.2C56.3,167.1 54.6,165.3 53.8,163.4C53.0,161.5 52.6,158.7 53.3,156.7C53.9,154.7 55.7,152.5 57.6,151.4C59.4,150.4 62.1,150.3 64.2,150.6C66.4,150.9 69.1,151.7 70.5,153.2Z" fill="#13a35b" stroke="#464646" stroke-width="1.15"/><path d="M71.8,178.5C71.3,180.5 69.9,183.1 68.1,184.2C66.4,185.4 63.5,185.6 61.3,185.3C59.1,185.0 56.4,184.1 54.9,182.5C53.4,181.0 52.5,178.1 52.4,175.8C52.3,173.6 53.0,170.6 54.4,169.0C55.8,167.4 58.6,166.6 60.8,166.3C62.9,166.0 65.4,166.1 67.2,167.1C69.0,168.0 70.6,170.1 71.4,172.0C72.2,173.9 72.4,176.4 71.8,178.5Z" fill="#13a35b" stroke="#464646" stroke-width="1.15"/><path d="M78.1,144.0C77.3,142.2 77.4,139.5 77.9,137.5C78.5,135.4 79.7,132.9 81.3,131.7C83.0,130.6 85.8,130.3 87.9,130.6C90.0,130.8 92.5,131.7 93.9,133.2C95.4,134.6 96.4,137.1 96.6,139.3C96.9,141.4 96.6,144.3 95.4,146.0C94.2,147.7 91.5,149.1 89.5,149.5C87.4,150.0 84.7,149.6 82.8,148.7C80.9,147.8 78.9,145.9 78.1,144.0Z" fill="#13a35b" stroke="#464646" stroke-width="1.15"/><path d="M80.9,144.1C80.3,146.2 78.8,148.5 77.1,149.8C75.3,151.0 72.6,151.7 70.4,151.5C68.2,151.3 65.5,150.2 63.9,148.7C62.4,147.1 61.2,144.3 61.1,142.1C61.1,140.0 62.3,137.4 63.6,135.8C64.9,134.1 67.0,132.8 69.1,132.2C71.1,131.6 73.9,131.3 75.9,132.2C77.8,133.0 80.0,135.2 80.8,137.2C81.6,139.2 81.5,142.0 80.9,144.1Z" fill="#13a35b" stroke="#464646" stroke-width="1.15"/><path d="M80.2,123.9C80.3,121.8 81.7,119.2 83.2,117.7C84.7,116.2 87.2,115.1 89.3,114.9C91.4,114.7 94.0,115.3 95.7,116.5C97.4,117.6 98.8,119.8 99.5,121.8C100.2,123.8 100.5,126.5 99.8,128.5C99.1,130.5 97.2,132.8 95.2,133.8C93.3,134.8 90.2,135.2 88.1,134.7C86.0,134.1 83.9,132.2 82.6,130.5C81.2,128.7 80.1,126.1 80.2,123.9Z" fill="#13a35b" stroke="#464646" stroke-width="1.15"/><path d="M89.5,98.0C91.4,96.9 94.3,96.4 96.5,96.8C98.7,97.2 101.1,98.8 102.5,100.5C103.8,102.1 104.6,104.8 104.6,106.9C104.7,109.1 103.8,111.8 102.5,113.3C101.2,114.9 98.6,116.1 96.5,116.4C94.5,116.7 92.0,116.3 90.1,115.3C88.2,114.4 86.1,112.5 85.3,110.6C84.4,108.6 84.2,105.6 84.9,103.5C85.6,101.4 87.5,99.1 89.5,98.0Z" fill="#13a35b" stroke="#464646" stroke-width="1.15"/><path d="M81.2,88.3C81.8,86.3 83.5,84.2 85.3,83.0C87.0,81.9 89.6,81.2 91.8,81.4C93.9,81.6 96.7,82.6 98.1,84.1C99.6,85.7 100.3,88.4 100.5,90.7C100.6,92.9 100.3,95.9 99.0,97.5C97.7,99.1 94.9,100.1 92.8,100.5C90.6,100.9 88.1,100.8 86.2,99.9C84.3,99.0 82.3,97.0 81.4,95.1C80.6,93.2 80.5,90.4 81.2,88.3Z" fill="#13a35b" stroke="#464646" stroke-width="1.15"/><path d="M99.3,99.6C98.1,97.8 97.6,94.8 97.9,92.6C98.2,90.4 99.5,87.7 101.1,86.3C102.8,84.9 105.7,84.0 107.8,84.0C109.9,84.1 112.2,85.4 113.9,86.7C115.6,88.1 117.4,90.0 117.9,92.0C118.4,94.1 117.9,97.0 116.9,98.8C115.9,100.7 113.8,102.6 111.8,103.3C109.8,104.1 107.2,103.9 105.1,103.3C103.0,102.7 100.5,101.3 99.3,99.6Z" fill="#13a35b" stroke="#464646" stroke-width="1.15"/><path d="M48.0,187.4C50.0,186.9 52.8,188.0 54.7,188.9C56.7,189.9 59.0,191.4 59.9,193.3C60.8,195.1 60.7,198.0 60.2,200.1C59.6,202.2 58.1,204.4 56.4,205.7C54.6,207.0 51.9,208.0 49.7,207.9C47.6,207.7 44.8,206.5 43.2,204.9C41.7,203.3 40.7,200.5 40.6,198.3C40.6,196.2 41.6,193.8 42.9,192.0C44.1,190.1 46.1,187.9 48.0,187.4Z" fill="#13a35b" stroke="#464646" stroke-width="1.15"/><path d="M80.6,191.5C81.6,193.3 82.1,195.9 81.8,198.0C81.5,200.1 80.3,202.9 78.7,204.2C77.0,205.5 74.1,206.0 72.0,205.8C69.8,205.7 67.5,204.7 65.8,203.4C64.1,202.0 62.3,199.8 61.8,197.7C61.4,195.6 62.0,192.5 63.2,190.7C64.5,188.9 67.0,187.5 69.1,186.9C71.2,186.3 73.8,186.2 75.8,186.9C77.7,187.7 79.6,189.7 80.6,191.5Z" fill="#13a35b" stroke="#464646" stroke-width="1.15"/><path d="M9.8,172.4C7.7,171.9 5.6,170.7 4.2,169.1C2.7,167.5 1.1,164.9 1.2,162.8C1.3,160.8 3.1,158.4 4.6,156.8C6.1,155.3 8.3,153.9 10.3,153.6C12.3,153.3 15.0,153.8 16.7,154.9C18.4,156.0 19.9,158.1 20.7,160.1C21.4,162.1 21.7,164.7 21.0,166.8C20.3,168.8 18.5,171.1 16.6,172.1C14.7,173.0 11.9,172.9 9.8,172.4Z" fill="#13a35b" stroke="#464646" stroke-width="1.15"/><path d="M42.3,155.5C44.2,156.5 46.2,158.8 46.8,160.8C47.4,162.9 46.6,165.6 45.7,167.5C44.8,169.5 43.4,171.5 41.6,172.6C39.8,173.8 36.9,174.8 34.9,174.4C32.9,173.9 30.9,171.7 29.6,170.0C28.3,168.2 27.3,165.9 27.3,163.8C27.3,161.7 28.2,159.1 29.6,157.5C31.0,156.0 33.5,154.9 35.6,154.5C37.7,154.2 40.4,154.4 42.3,155.5Z" fill="#13a35b" stroke="#464646" stroke-width="1.15"/><path d="M17.3,186.1C17.9,184.1 19.3,182.1 21.0,180.8C22.7,179.5 25.5,178.1 27.5,178.4C29.5,178.6 31.7,180.6 33.2,182.2C34.7,183.9 36.6,186.1 36.7,188.2C36.8,190.2 35.3,192.7 34.0,194.5C32.7,196.3 30.8,198.5 28.8,199.0C26.7,199.6 23.7,198.9 21.8,197.9C19.8,196.9 17.8,194.8 17.0,192.8C16.3,190.9 16.6,188.1 17.3,186.1Z" fill="#13a35b" stroke="#464646" stroke-width="1.15"/><path d="M27.3,218.5C25.6,219.9 23.2,221.5 21.2,221.5C19.2,221.4 16.6,219.9 15.1,218.4C13.6,216.9 12.4,214.8 11.9,212.7C11.5,210.6 11.5,207.7 12.6,205.9C13.6,204.0 16.0,201.9 18.0,201.4C20.1,200.8 22.7,201.6 24.8,202.4C26.9,203.2 29.5,204.4 30.6,206.1C31.7,207.9 31.8,211.1 31.2,213.1C30.7,215.2 29.0,217.1 27.3,218.5Z" fill="#13a35b" stroke="#464646" stroke-width="1.15"/><path d="M42.5,250.8C41.1,249.1 39.9,246.9 39.7,244.8C39.5,242.7 39.9,239.6 41.2,238.0C42.4,236.3 45.3,235.3 47.4,234.9C49.5,234.6 52.1,235.0 53.9,236.0C55.7,236.9 57.5,238.9 58.3,240.8C59.1,242.7 59.2,245.3 58.6,247.3C58.0,249.3 56.5,251.4 54.7,252.7C53.0,253.9 50.2,255.1 48.1,254.8C46.1,254.4 43.9,252.5 42.5,250.8Z" fill="#13a35b" stroke="#464646" stroke-width="1.15"/><path d="M49.7,112.0C48.7,113.9 47.2,116.3 45.2,117.2C43.3,118.1 40.2,118.2 38.0,117.5C35.9,116.9 33.4,115.0 32.4,113.1C31.3,111.2 31.3,108.4 31.7,106.2C32.1,104.1 33.1,101.8 34.7,100.3C36.2,98.7 38.7,97.1 40.8,97.0C42.9,96.9 45.6,98.3 47.3,99.6C49.1,101.0 50.8,103.3 51.2,105.3C51.6,107.4 50.7,110.0 49.7,112.0Z" fill="#13a35b" stroke="#464646" stroke-width="1.15"/><path d="M219.7,283.7C217.7,282.8 215.7,281.3 214.6,279.5C213.6,277.7 212.9,274.9 213.3,272.7C213.7,270.6 215.3,268.1 217.1,266.8C218.8,265.5 221.6,264.8 223.8,265.0C225.9,265.1 228.4,266.3 230.0,267.7C231.6,269.2 232.9,271.6 233.2,273.7C233.5,275.8 232.8,278.5 231.6,280.3C230.5,282.1 228.3,284.0 226.3,284.5C224.3,285.1 221.6,284.5 219.7,283.7Z" fill="#13a35b" stroke="#464646" stroke-width="1.1"/><path d="M228.1,288.2C229.9,289.2 231.9,291.0 232.7,293.0C233.6,295.0 233.9,298.0 233.2,300.0C232.5,302.1 230.4,304.5 228.5,305.5C226.6,306.4 223.9,306.3 221.7,305.9C219.5,305.6 216.7,304.9 215.3,303.3C213.8,301.7 212.8,298.7 212.9,296.6C213.1,294.4 214.5,292.0 216.0,290.4C217.4,288.8 219.6,287.4 221.6,287.0C223.6,286.6 226.2,287.2 228.1,288.2Z" fill="#13a35b" stroke="#464646" stroke-width="1.1"/><text x="238.6" y="277" font-family="Liberation Sans, sans-serif" font-weight="bold" font-size="11" fill="#111" stroke="#111" stroke-width="0.25">soft corona</text><text x="238.6" y="300.6" font-family="Liberation Sans, sans-serif" font-weight="bold" font-size="11" fill="#111" stroke="#111" stroke-width="0.25">hard corona</text><text x="32.6" y="92.6" font-family="Liberation Sans, Arial, sans-serif" font-weight="bold" font-style="italic" fill="#333333" stroke="#333333" stroke-width="0.3"><tspan font-size="21">k</tspan><tspan font-size="15.3">off,hard</tspan></text>
<text x="33.2" y="134.8" font-family="Liberation Sans, Arial, sans-serif" font-weight="bold" font-style="italic" fill="#333333" stroke="#333333" stroke-width="0.3"><tspan font-size="21">k</tspan><tspan font-size="15">on,hard</tspan></text>
<path d="M52.9,103.8 L67.5,97.7 L64.6,102.3 L78.3,102.3 L78.3,105.3 L64.6,105.3 L67.5,109.6 Z" fill="#2a2a2a"/>
<path d="M78.8,116 L65.1,110.6 L68,114.6 L53.9,114.6 L53.9,117.4 L68,117.4 L65.1,121.3 Z" fill="#2a2a2a"/>
<text transform="translate(30.2,242.3) rotate(-41)" font-family="Liberation Sans, Arial, sans-serif" font-weight="bold" font-style="italic" fill="#333333" stroke="#333333" stroke-width="0.3"><tspan font-size="21">k</tspan><tspan font-size="15">on,soft</tspan></text>
<text transform="translate(63.6,271.0) rotate(-42.5)" font-family="Liberation Sans, Arial, sans-serif" font-weight="bold" font-style="italic" fill="#333333" stroke="#333333" stroke-width="0.3"><tspan font-size="21">k</tspan><tspan font-size="15">off,soft</tspan></text>
<g transform="translate(70.4,228.6) rotate(-47) scale(-0.84,1.0)"><path d="M-12.9,-6.1 L1.7,-12.2 L-1.2,-7.6 L12.5,-7.6 L12.5,-4.6 L-1.2,-4.6 L1.7,-0.3 Z" fill="#2a2a2a"/><path d="M13,6.1 L-0.7,0.7 L2.2,4.7 L-11.9,4.7 L-11.9,7.5 L2.2,7.5 L-0.7,11.4 Z" fill="#2a2a2a"/></g><text x="309.2" y="12.4" font-family="Liberation Sans, Arial, sans-serif" font-weight="bold" font-size="15.6" fill="#000" stroke="#000" stroke-width="0.3">B</text>
<text x="355.2" y="24.1" font-family="Liberation Sans, Arial, sans-serif" font-weight="bold" font-size="13.2" fill="#111" stroke="#111" stroke-width="0.25">Adsorption</text>
<rect x="349.7" y="30.1" width="178.9" height="176.6" fill="none" stroke="#3a3a3a" stroke-width="1.5"/>
<line x1="350.4" y1="49.6" x2="355.6" y2="49.6" stroke="#3a3a3a" stroke-width="1.4"/>
<text x="346.8" y="53.7" text-anchor="end" font-family="Liberation Sans, Arial, sans-serif" font-size="12" fill="#1a1a1a" stroke="#1a1a1a" stroke-width="0.2">400</text>
<line x1="350.4" y1="89.0" x2="355.6" y2="89.0" stroke="#3a3a3a" stroke-width="1.4"/>
<text x="346.8" y="93.1" text-anchor="end" font-family="Liberation Sans, Arial, sans-serif" font-size="12" fill="#1a1a1a" stroke="#1a1a1a" stroke-width="0.2">300</text>
<line x1="350.4" y1="128.4" x2="355.6" y2="128.4" stroke="#3a3a3a" stroke-width="1.4"/>
<text x="346.8" y="132.5" text-anchor="end" font-family="Liberation Sans, Arial, sans-serif" font-size="12" fill="#1a1a1a" stroke="#1a1a1a" stroke-width="0.2">200</text>
<line x1="350.4" y1="167.9" x2="355.6" y2="167.9" stroke="#3a3a3a" stroke-width="1.4"/>
<text x="346.8" y="172.0" text-anchor="end" font-family="Liberation Sans, Arial, sans-serif" font-size="12" fill="#1a1a1a" stroke="#1a1a1a" stroke-width="0.2">100</text>
<text x="350.5" y="220" text-anchor="middle" font-family="Liberation Sans, Arial, sans-serif" font-size="12" fill="#1a1a1a" stroke="#1a1a1a" stroke-width="0.2">0</text>
<line x1="402.7" y1="206" x2="402.7" y2="201" stroke="#3a3a3a" stroke-width="1.2"/>
<text x="403.2" y="220" text-anchor="middle" font-family="Liberation Sans, Arial, sans-serif" font-size="12" fill="#1a1a1a" stroke="#1a1a1a" stroke-width="0.2">500</text>
<line x1="455.3" y1="206" x2="455.3" y2="201" stroke="#3a3a3a" stroke-width="1.2"/>
<text x="455.8" y="220" text-anchor="middle" font-family="Liberation Sans, Arial, sans-serif" font-size="12" fill="#1a1a1a" stroke="#1a1a1a" stroke-width="0.2">1000</text>
<line x1="508.0" y1="206" x2="508.0" y2="201" stroke="#3a3a3a" stroke-width="1.2"/>
<text x="508.5" y="220" text-anchor="middle" font-family="Liberation Sans, Arial, sans-serif" font-size="12" fill="#1a1a1a" stroke="#1a1a1a" stroke-width="0.2">1500</text>
<text x="438" y="236.2" text-anchor="middle" font-family="Liberation Sans, Arial, sans-serif" font-size="12.1" fill="#1a1a1a" stroke="#1a1a1a" stroke-width="0.2">Time / s</text>
<text transform="translate(317,113.5) rotate(-90)" text-anchor="middle" font-family="Liberation Sans, Arial, sans-serif" font-size="11.9" fill="#1a1a1a" stroke="#1a1a1a" stroke-width="0.2">Response / RU</text>
<path d="M350.20,206.50 L350.44,200.40 L350.68,194.73 L350.92,189.47 L351.17,184.58 L351.41,180.03 L351.65,175.80 L351.89,171.87 L352.13,168.21 L352.38,164.80 L352.62,161.62 L352.86,158.66 L353.10,155.90 L353.34,153.32 L353.58,150.92 L353.82,148.67 L354.07,146.57 L354.31,144.60 L354.55,142.76 L354.79,141.03 L355.03,139.41 L355.28,137.89 L355.52,136.46 L355.76,135.12 L356.00,133.85 L356.50,131.46 L357.52,127.35 L358.54,124.05 L359.57,121.33 L360.59,119.04 L361.61,117.06 L362.63,115.31 L363.65,113.73 L364.67,112.27 L365.70,110.91 L366.72,109.63 L367.74,108.40 L368.76,107.23 L369.78,106.09 L370.80,104.98 L371.83,103.90 L372.85,102.85 L373.87,101.82 L374.89,100.81 L375.91,99.82 L376.93,98.85 L377.96,97.89 L378.98,96.95 L380.00,96.03 L381.00,95.14 L383.00,93.41 L385.00,91.73 L387.00,90.11 L389.00,88.54 L391.00,87.02 L393.00,85.54 L395.00,84.12 L397.00,82.73 L399.00,81.39 L401.00,80.09 L403.00,78.83 L405.00,77.61 L407.00,76.43 L409.00,75.29 L411.00,74.17 L413.00,73.09 L415.00,72.05 L417.00,71.03 L419.00,70.05 L421.00,69.09 L423.00,68.17 L425.00,67.27 L427.00,66.39 L429.00,65.55 L431.00,64.72 L433.00,63.92 L435.00,63.15 L437.00,62.39 L439.00,61.66 L441.00,60.94 L443.00,60.25 L445.00,59.58 L447.00,58.92 L449.00,58.28 L451.00,57.66 L453.00,57.06 L455.00,56.47 L457.00,55.90 L459.00,55.34 L461.00,54.80 L463.00,54.27 L465.00,53.76 L467.00,53.25 L469.00,52.76 L471.00,52.29 L473.00,51.82 L475.00,51.37 L477.00,50.92 L479.00,50.49 L481.00,50.07 L483.00,49.65 L485.00,49.25 L487.00,48.86 L489.00,48.47 L491.00,48.09 L493.00,47.73 L495.00,47.37 L497.00,47.01 L499.00,46.67 L501.00,46.33 L503.00,46.00 L505.00,45.67 L507.00,45.36 L509.00,45.04 L511.00,44.74 L513.00,44.44 L515.00,44.14 L517.00,43.85 L519.00,43.57 L521.00,43.29 L523.00,43.02 L525.00,42.75 L527.00,42.49 L528.60,42.28" transform="translate(0,0.5)" fill="none" stroke="#d4452c" stroke-width="2.3" stroke-linecap="round"/>
<path d="M350.20,206.50 L350.44,200.40 L350.68,194.73 L350.92,189.47 L351.17,184.58 L351.41,180.03 L351.65,175.80 L351.89,171.87 L352.13,168.21 L352.38,164.80 L352.62,161.62 L352.86,158.66 L353.10,155.90 L353.34,153.32 L353.58,150.92 L353.82,148.67 L354.07,146.57 L354.31,144.60 L354.55,142.76 L354.79,141.03 L355.03,139.41 L355.28,137.89 L355.52,136.46 L355.76,135.12 L356.00,133.85 L356.50,131.46 L357.52,127.35 L358.54,124.05 L359.57,121.33 L360.59,119.04 L361.61,117.06 L362.63,115.31 L363.65,113.73 L364.67,112.27 L365.70,110.91 L366.72,109.63 L367.74,108.40 L368.76,107.23 L369.78,106.09 L370.80,104.98 L371.83,103.90 L372.85,102.85 L373.87,101.82 L374.89,100.81 L375.91,99.82 L376.93,98.85 L377.96,97.89 L378.98,96.95 L380.00,96.03 L381.00,95.14 L383.00,93.41 L385.00,91.73 L387.00,90.11 L389.00,88.54 L391.00,87.02 L393.00,85.54 L395.00,84.12 L397.00,82.73 L399.00,81.39 L401.00,80.09 L403.00,78.83 L405.00,77.61 L407.00,76.43 L409.00,75.29 L411.00,74.17 L413.00,73.09 L415.00,72.05 L417.00,71.03 L419.00,70.05 L421.00,69.09 L423.00,68.17 L425.00,67.27 L427.00,66.39 L429.00,65.55 L431.00,64.72 L433.00,63.92 L435.00,63.15 L437.00,62.39 L439.00,61.66 L441.00,60.94 L443.00,60.25 L445.00,59.58 L447.00,58.92 L449.00,58.28 L451.00,57.66 L453.00,57.06 L455.00,56.47 L457.00,55.90 L459.00,55.34 L461.00,54.80 L463.00,54.27 L465.00,53.76 L467.00,53.25 L469.00,52.76 L471.00,52.29 L473.00,51.82 L475.00,51.37 L477.00,50.92 L479.00,50.49 L481.00,50.07 L483.00,49.65 L485.00,49.25 L487.00,48.86 L489.00,48.47 L491.00,48.09 L493.00,47.73 L495.00,47.37 L497.00,47.01 L499.00,46.67 L501.00,46.33 L503.00,46.00 L505.00,45.67 L507.00,45.36 L509.00,45.04 L511.00,44.74 L513.00,44.44 L515.00,44.14 L517.00,43.85 L519.00,43.57 L521.00,43.29 L523.00,43.02 L525.00,42.75 L527.00,42.49 L528.60,42.28" transform="translate(0,0.5)" fill="none" stroke="#402828" stroke-width="1.2" stroke-dasharray="1.5 2.5" opacity="0.75"/>
<path d="M350.50,206.66 L352.50,206.08 L354.50,205.49 L356.50,204.90 L358.50,204.32 L360.50,203.73 L362.50,203.15 L364.50,202.56 L366.50,201.97 L368.50,201.39 L370.50,200.80 L372.50,200.21 L374.50,199.63 L376.50,199.04 L378.50,198.46 L380.50,197.87 L382.50,197.29 L384.50,196.71 L386.50,196.13 L388.50,195.55 L390.50,194.97 L392.50,194.39 L394.50,193.81 L396.50,193.24 L398.50,192.66 L400.50,192.09 L402.50,191.52 L404.50,190.95 L406.50,190.38 L408.50,189.81 L410.50,189.24 L412.50,188.68 L414.50,188.12 L416.50,187.56 L418.50,187.00 L420.50,186.45 L422.50,185.89 L424.50,185.34 L426.50,184.79 L428.50,184.25 L430.50,183.70 L432.50,183.16 L434.50,182.62 L436.50,182.09 L438.50,181.56 L440.50,181.03 L442.50,180.50 L444.50,179.98 L446.50,179.45 L448.50,178.94 L450.50,178.42 L452.50,177.91 L454.50,177.40 L456.50,176.90 L458.50,176.40 L460.50,175.90 L462.50,175.41 L464.50,174.92 L466.50,174.44 L468.50,173.96 L470.50,173.48 L472.50,173.00 L474.50,172.54 L476.50,172.07 L478.50,171.61 L480.50,171.15 L482.50,170.70 L484.50,170.26 L486.50,169.81 L488.50,169.38 L490.50,168.94 L492.50,168.52 L494.50,168.09 L496.50,167.68 L498.50,167.26 L500.50,166.86 L502.50,166.45 L504.50,166.06 L506.50,165.66 L508.50,165.28 L510.50,164.90 L512.50,164.52 L514.50,164.15 L516.50,163.79 L518.50,163.43 L520.50,163.08 L522.50,162.73 L524.50,162.39 L526.50,162.06 L528.50,161.73 L528.60,161.72" fill="none" stroke="#3f8a8c" stroke-width="2.6"/>
<path d="M350.50,206.66 L352.50,206.08 L354.50,205.49 L356.50,204.90 L358.50,204.32 L360.50,203.73 L362.50,203.15 L364.50,202.56 L366.50,201.97 L368.50,201.39 L370.50,200.80 L372.50,200.21 L374.50,199.63 L376.50,199.04 L378.50,198.46 L380.50,197.87 L382.50,197.29 L384.50,196.71 L386.50,196.13 L388.50,195.55 L390.50,194.97 L392.50,194.39 L394.50,193.81 L396.50,193.24 L398.50,192.66 L400.50,192.09 L402.50,191.52 L404.50,190.95 L406.50,190.38 L408.50,189.81 L410.50,189.24 L412.50,188.68 L414.50,188.12 L416.50,187.56 L418.50,187.00 L420.50,186.45 L422.50,185.89 L424.50,185.34 L426.50,184.79 L428.50,184.25 L430.50,183.70 L432.50,183.16 L434.50,182.62 L436.50,182.09 L438.50,181.56 L440.50,181.03 L442.50,180.50 L444.50,179.98 L446.50,179.45 L448.50,178.94 L450.50,178.42 L452.50,177.91 L454.50,177.40 L456.50,176.90 L458.50,176.40 L460.50,175.90 L462.50,175.41 L464.50,174.92 L466.50,174.44 L468.50,173.96 L470.50,173.48 L472.50,173.00 L474.50,172.54 L476.50,172.07 L478.50,171.61 L480.50,171.15 L482.50,170.70 L484.50,170.26 L486.50,169.81 L488.50,169.38 L490.50,168.94 L492.50,168.52 L494.50,168.09 L496.50,167.68 L498.50,167.26 L500.50,166.86 L502.50,166.45 L504.50,166.06 L506.50,165.66 L508.50,165.28 L510.50,164.90 L512.50,164.52 L514.50,164.15 L516.50,163.79 L518.50,163.43 L520.50,163.08 L522.50,162.73 L524.50,162.39 L526.50,162.06 L528.50,161.73 L528.60,161.72" fill="none" stroke="#1c3438" stroke-width="1.5" stroke-dasharray="3 1.5"/>
<path d="M350.6,221.4 L355.5,232.7 L351.8,231.0 L351.8,236.6 L349.4,236.6 L349.4,231.0 L345.7,232.7 Z" fill="#333"/>
<path d="M396.4,221.4 L401.3,232.7 L397.6,231.0 L397.6,236.6 L395.2,236.6 L395.2,231.0 L391.5,232.7 Z" fill="#333"/>
<path d="M516.3,221.4 L521.2,232.7 L517.5,231.0 L517.5,236.6 L515.1,236.6 L515.1,231.0 L511.4,232.7 Z" fill="#333"/>
<text x="549.9" y="12.4" font-family="Liberation Sans, Arial, sans-serif" font-weight="bold" font-size="15.6" fill="#000" stroke="#000" stroke-width="0.3">C</text>
<text x="600.5" y="24.1" font-family="Liberation Sans, Arial, sans-serif" font-weight="bold" font-size="13.2" fill="#111" stroke="#111" stroke-width="0.25">Desorption</text>
<rect x="592.4" y="30.2" width="177.3" height="176.5" fill="none" stroke="#3a3a3a" stroke-width="1.5"/>
<text x="588.2" y="36.800000000000004" text-anchor="end" font-family="Liberation Sans, Arial, sans-serif" font-size="12" fill="#1a1a1a" stroke="#1a1a1a" stroke-width="0.2">1.0</text>
<line x1="593" y1="118.9" x2="598.5" y2="118.9" stroke="#3a3a3a" stroke-width="1.4"/>
<text x="589.5" y="124.8" text-anchor="end" font-family="Liberation Sans, Arial, sans-serif" font-size="12" fill="#1a1a1a" stroke="#1a1a1a" stroke-width="0.2">0.5</text>
<text x="590" y="211.79999999999998" text-anchor="end" font-family="Liberation Sans, Arial, sans-serif" font-size="12" fill="#1a1a1a" stroke="#1a1a1a" stroke-width="0.2">0.0</text>
<text x="594.0" y="220" text-anchor="middle" font-family="Liberation Sans, Arial, sans-serif" font-size="12" fill="#1a1a1a" stroke="#1a1a1a" stroke-width="0.2">0</text>
<line x1="651.5" y1="206" x2="651.5" y2="201" stroke="#3a3a3a" stroke-width="1.2"/>
<text x="651.5" y="220" text-anchor="middle" font-family="Liberation Sans, Arial, sans-serif" font-size="12" fill="#1a1a1a" stroke="#1a1a1a" stroke-width="0.2">2000</text>
<line x1="710.6" y1="206" x2="710.6" y2="201" stroke="#3a3a3a" stroke-width="1.2"/>
<text x="710.6" y="220" text-anchor="middle" font-family="Liberation Sans, Arial, sans-serif" font-size="12" fill="#1a1a1a" stroke="#1a1a1a" stroke-width="0.2">4000</text>
<text x="769.6" y="220" text-anchor="middle" font-family="Liberation Sans, Arial, sans-serif" font-size="12" fill="#1a1a1a" stroke="#1a1a1a" stroke-width="0.2">6000</text>
<text x="693" y="236.2" text-anchor="middle" font-family="Liberation Sans, Arial, sans-serif" font-size="12.1" fill="#1a1a1a" stroke="#1a1a1a" stroke-width="0.2">Time / s</text>
<text transform="translate(562,110) rotate(-90)" text-anchor="middle" font-family="Liberation Sans, Arial, sans-serif" font-size="11.9" fill="#1a1a1a" stroke="#1a1a1a" stroke-width="0.2">Relative response</text>
<path d="M592.80,31.50 L593.26,36.21 L593.71,40.74 L594.17,45.09 L594.62,49.26 L595.08,53.27 L595.53,57.12 L595.99,60.81 L596.44,64.37 L596.90,67.79 L597.35,71.07 L597.81,74.23 L598.26,77.26 L598.72,80.19 L599.17,83.00 L599.63,85.70 L600.08,88.31 L600.54,90.82 L600.99,93.23 L601.45,95.56 L601.90,97.80 L602.36,99.96 L602.81,102.04 L603.27,104.05 L603.72,105.99 L604.18,107.86 L604.63,109.66 L605.09,111.41 L605.54,113.09 L606.00,114.71 L607.00,118.09 L609.00,124.15 L611.00,129.41 L613.00,134.01 L615.00,138.05 L617.00,141.63 L619.00,144.83 L621.00,147.70 L623.00,150.29 L625.00,152.65 L627.00,154.81 L629.00,156.80 L631.00,158.64 L633.00,160.36 L635.00,161.97 L637.00,163.47 L639.00,164.89 L641.00,166.24 L643.00,167.52 L645.00,168.73 L647.00,169.89 L649.00,170.99 L651.00,172.05 L653.00,173.07 L655.00,174.04 L657.00,174.98 L659.00,175.88 L661.00,176.75 L663.00,177.59 L665.00,178.39 L667.00,179.17 L669.00,179.93 L671.00,180.65 L673.00,181.36 L675.00,182.04 L677.00,182.70 L679.00,183.33 L681.00,183.95 L683.00,184.55 L685.00,185.13 L687.00,185.69 L689.00,186.23 L691.00,186.76 L693.00,187.27 L695.00,187.77 L697.00,188.25 L699.00,188.72 L701.00,189.18 L703.00,189.62 L705.00,190.05 L707.00,190.47 L709.00,190.87 L711.00,191.27 L713.00,191.65 L715.00,192.02 L717.00,192.39 L719.00,192.74 L721.00,193.09 L723.00,193.42 L725.00,193.75 L727.00,194.07 L729.00,194.38 L731.00,194.68 L733.00,194.98 L735.00,195.27 L737.00,195.55 L739.00,195.83 L741.00,196.09 L743.00,196.36 L745.00,196.62 L747.00,196.87 L749.00,197.11 L751.00,197.35 L753.00,197.59 L755.00,197.82 L757.00,198.05 L759.00,198.27 L761.00,198.49 L763.00,198.70 L765.00,198.91 L767.00,199.12 L769.00,199.32 L769.30,199.35" fill="none" stroke="#d63f2c" stroke-width="1.8"/>
<path d="M592.80,31.50 L593.26,36.21 L593.71,40.74 L594.17,45.09 L594.62,49.26 L595.08,53.27 L595.53,57.12 L595.99,60.81 L596.44,64.37 L596.90,67.79 L597.35,71.07 L597.81,74.23 L598.26,77.26 L598.72,80.19 L599.17,83.00 L599.63,85.70 L600.08,88.31 L600.54,90.82 L600.99,93.23 L601.45,95.56 L601.90,97.80 L602.36,99.96 L602.81,102.04 L603.27,104.05 L603.72,105.99 L604.18,107.86 L604.63,109.66 L605.09,111.41 L605.54,113.09 L606.00,114.71 L607.00,118.09 L609.00,124.15 L611.00,129.41 L613.00,134.01 L615.00,138.05 L617.00,141.63 L619.00,144.83 L621.00,147.70 L623.00,150.29 L625.00,152.65 L627.00,154.81 L629.00,156.80 L631.00,158.64 L633.00,160.36 L635.00,161.97 L637.00,163.47 L639.00,164.89 L641.00,166.24 L643.00,167.52 L645.00,168.73 L647.00,169.89 L649.00,170.99 L651.00,172.05 L653.00,173.07 L655.00,174.04 L657.00,174.98 L659.00,175.88 L661.00,176.75 L663.00,177.59 L665.00,178.39 L667.00,179.17 L669.00,179.93 L671.00,180.65 L673.00,181.36 L675.00,182.04 L677.00,182.70 L679.00,183.33 L681.00,183.95 L683.00,184.55 L685.00,185.13 L687.00,185.69 L689.00,186.23 L691.00,186.76 L693.00,187.27 L695.00,187.77 L697.00,188.25 L699.00,188.72 L701.00,189.18 L703.00,189.62 L705.00,190.05 L707.00,190.47 L709.00,190.87 L711.00,191.27 L713.00,191.65 L715.00,192.02 L717.00,192.39 L719.00,192.74 L721.00,193.09 L723.00,193.42 L725.00,193.75 L727.00,194.07 L729.00,194.38 L731.00,194.68 L733.00,194.98 L735.00,195.27 L737.00,195.55 L739.00,195.83 L741.00,196.09 L743.00,196.36 L745.00,196.62 L747.00,196.87 L749.00,197.11 L751.00,197.35 L753.00,197.59 L755.00,197.82 L757.00,198.05 L759.00,198.27 L761.00,198.49 L763.00,198.70 L765.00,198.91 L767.00,199.12 L769.00,199.32 L769.30,199.35" fill="none" stroke="#402828" stroke-width="1.0" stroke-dasharray="1.5 2.5" opacity="0.7"/>
<path d="M592.80,31.50 L593.60,34.10 L594.40,35.25 L595.20,36.22 L596.00,37.15 L596.80,38.08 L597.60,38.99 L598.40,39.89 L599.20,40.79 L600.00,41.68 L601.00,42.77 L603.00,44.92 L605.00,47.02 L607.00,49.07 L609.00,51.07 L611.00,53.02 L613.00,54.93 L615.00,56.79 L617.00,58.60 L619.00,60.37 L621.00,62.10 L623.00,63.80 L625.00,65.45 L627.00,67.06 L629.00,68.63 L631.00,70.17 L633.00,71.68 L635.00,73.15 L637.00,74.59 L639.00,75.99 L641.00,77.37 L643.00,78.71 L645.00,80.02 L647.00,81.31 L649.00,82.57 L651.00,83.80 L653.00,85.00 L655.00,86.18 L657.00,87.34 L659.00,88.47 L661.00,89.57 L663.00,90.66 L665.00,91.72 L667.00,92.76 L669.00,93.78 L671.00,94.77 L673.00,95.75 L675.00,96.71 L677.00,97.65 L679.00,98.58 L681.00,99.48 L683.00,100.37 L685.00,101.24 L687.00,102.10 L689.00,102.94 L691.00,103.76 L693.00,104.57 L695.00,105.37 L697.00,106.15 L699.00,106.92 L701.00,107.67 L703.00,108.41 L705.00,109.14 L707.00,109.86 L709.00,110.56 L711.00,111.26 L713.00,111.94 L715.00,112.61 L717.00,113.27 L719.00,113.92 L721.00,114.56 L723.00,115.20 L725.00,115.82 L727.00,116.43 L729.00,117.03 L731.00,117.63 L733.00,118.22 L735.00,118.80 L737.00,119.37 L739.00,119.93 L741.00,120.49 L743.00,121.03 L745.00,121.58 L747.00,122.11 L749.00,122.64 L751.00,123.16 L753.00,123.68 L755.00,124.19 L757.00,124.69 L759.00,125.19 L761.00,125.68 L763.00,126.17 L765.00,126.65 L767.00,127.12 L769.00,127.59 L769.30,127.66" fill="none" stroke="#3a8486" stroke-width="2.8"/>
<path d="M592.80,31.50 L593.60,34.10 L594.40,35.25 L595.20,36.22 L596.00,37.15 L596.80,38.08 L597.60,38.99 L598.40,39.89 L599.20,40.79 L600.00,41.68 L601.00,42.77 L603.00,44.92 L605.00,47.02 L607.00,49.07 L609.00,51.07 L611.00,53.02 L613.00,54.93 L615.00,56.79 L617.00,58.60 L619.00,60.37 L621.00,62.10 L623.00,63.80 L625.00,65.45 L627.00,67.06 L629.00,68.63 L631.00,70.17 L633.00,71.68 L635.00,73.15 L637.00,74.59 L639.00,75.99 L641.00,77.37 L643.00,78.71 L645.00,80.02 L647.00,81.31 L649.00,82.57 L651.00,83.80 L653.00,85.00 L655.00,86.18 L657.00,87.34 L659.00,88.47 L661.00,89.57 L663.00,90.66 L665.00,91.72 L667.00,92.76 L669.00,93.78 L671.00,94.77 L673.00,95.75 L675.00,96.71 L677.00,97.65 L679.00,98.58 L681.00,99.48 L683.00,100.37 L685.00,101.24 L687.00,102.10 L689.00,102.94 L691.00,103.76 L693.00,104.57 L695.00,105.37 L697.00,106.15 L699.00,106.92 L701.00,107.67 L703.00,108.41 L705.00,109.14 L707.00,109.86 L709.00,110.56 L711.00,111.26 L713.00,111.94 L715.00,112.61 L717.00,113.27 L719.00,113.92 L721.00,114.56 L723.00,115.20 L725.00,115.82 L727.00,116.43 L729.00,117.03 L731.00,117.63 L733.00,118.22 L735.00,118.80 L737.00,119.37 L739.00,119.93 L741.00,120.49 L743.00,121.03 L745.00,121.58 L747.00,122.11 L749.00,122.64 L751.00,123.16 L753.00,123.68 L755.00,124.19 L757.00,124.69 L759.00,125.19 L761.00,125.68 L763.00,126.17 L765.00,126.65 L767.00,127.12 L769.00,127.59 L769.30,127.66" fill="none" stroke="#1c3438" stroke-width="1.8" stroke-dasharray="4 1.5"/>
<line x1="622.5" y1="48" x2="622.5" y2="73.5" stroke="#3a8a88" stroke-width="1.4"/>
<line x1="710.3" y1="95" x2="710.3" y2="119.7" stroke="#3a8a88" stroke-width="1.4"/>
<path d="M593.3,221.6 L598.2,232.9 L594.5,231.2 L594.5,236.8 L592.1,236.8 L592.1,231.2 L588.4,232.9 Z" fill="#333"/>
<path d="M652.2,221.6 L657.1,232.9 L653.4,231.2 L653.4,236.8 L651.0,236.8 L651.0,231.2 L647.3,232.9 Z" fill="#333"/>
<path d="M765.0,221.6 L769.9,232.9 L766.2,231.2 L766.2,236.8 L763.8,236.8 L763.8,231.2 L760.1,232.9 Z" fill="#333"/><circle cx="349.8" cy="268.4" r="14.8" fill="url(#coreS)" stroke="#6a6258" stroke-width="1.2"/>
<ellipse cx="343.7" cy="262.3" rx="8.1" ry="3.7" transform="rotate(-45 343.7 262.3)" fill="#fbd3a2" opacity="0.85"/>
<circle cx="395.4" cy="269.2" r="14.5" fill="url(#coreS)"/>
<ellipse cx="389.5" cy="263.3" rx="8.0" ry="3.6" transform="rotate(-45 389.5 263.3)" fill="#fbd3a2" opacity="0.85"/>
<circle cx="384.4" cy="256.3" r="2.6" fill="#0f9f58" stroke="#0a6e3c" stroke-width="0.5"/>
<circle cx="387.7" cy="254.5" r="2.6" fill="#0f9f58" stroke="#0a6e3c" stroke-width="0.5"/>
<circle cx="393.6" cy="252.2" r="2.6" fill="#0f9f58" stroke="#0a6e3c" stroke-width="0.5"/>
<circle cx="398.5" cy="253.2" r="2.6" fill="#0f9f58" stroke="#0a6e3c" stroke-width="0.5"/>
<circle cx="403.3" cy="255.3" r="2.6" fill="#0f9f58" stroke="#0a6e3c" stroke-width="0.5"/>
<circle cx="407.6" cy="257.3" r="2.6" fill="#0f9f58" stroke="#0a6e3c" stroke-width="0.5"/>
<circle cx="410.5" cy="261.5" r="2.6" fill="#0f9f58" stroke="#0a6e3c" stroke-width="0.5"/>
<circle cx="411.5" cy="267.4" r="2.6" fill="#0f9f58" stroke="#0a6e3c" stroke-width="0.5"/>
<circle cx="411.2" cy="272.9" r="2.6" fill="#0f9f58" stroke="#0a6e3c" stroke-width="0.5"/>
<circle cx="409.9" cy="278.2" r="2.6" fill="#0f9f58" stroke="#0a6e3c" stroke-width="0.5"/>
<circle cx="406.2" cy="281.9" r="2.6" fill="#0f9f58" stroke="#0a6e3c" stroke-width="0.5"/>
<circle cx="403.1" cy="284.5" r="2.6" fill="#0f9f58" stroke="#0a6e3c" stroke-width="0.5"/>
<circle cx="396.7" cy="286.2" r="2.6" fill="#0f9f58" stroke="#0a6e3c" stroke-width="0.5"/>
<circle cx="392.5" cy="285.1" r="2.6" fill="#0f9f58" stroke="#0a6e3c" stroke-width="0.5"/>
<circle cx="388.1" cy="283.8" r="2.6" fill="#0f9f58" stroke="#0a6e3c" stroke-width="0.5"/>
<circle cx="383.7" cy="281.3" r="2.6" fill="#0f9f58" stroke="#0a6e3c" stroke-width="0.5"/>
<circle cx="380.1" cy="276.7" r="2.6" fill="#0f9f58" stroke="#0a6e3c" stroke-width="0.5"/>
<circle cx="379.0" cy="271.5" r="2.6" fill="#0f9f58" stroke="#0a6e3c" stroke-width="0.5"/>
<circle cx="378.4" cy="266.7" r="2.6" fill="#0f9f58" stroke="#0a6e3c" stroke-width="0.5"/>
<circle cx="380.7" cy="260.6" r="2.6" fill="#0f9f58" stroke="#0a6e3c" stroke-width="0.5"/>
<circle cx="380.5" cy="254.2" r="2.6" fill="#0f9f58" stroke="#0a6e3c" stroke-width="0.5"/>
<circle cx="384.3" cy="251.7" r="2.6" fill="#0f9f58" stroke="#0a6e3c" stroke-width="0.5"/>
<circle cx="389.1" cy="248.7" r="2.6" fill="#0f9f58" stroke="#0a6e3c" stroke-width="0.5"/>
<circle cx="396.0" cy="248.3" r="2.6" fill="#0f9f58" stroke="#0a6e3c" stroke-width="0.5"/>
<circle cx="400.5" cy="248.4" r="2.6" fill="#0f9f58" stroke="#0a6e3c" stroke-width="0.5"/>
<circle cx="405.9" cy="250.5" r="2.6" fill="#0f9f58" stroke="#0a6e3c" stroke-width="0.5"/>
<circle cx="409.2" cy="252.5" r="2.6" fill="#0f9f58" stroke="#0a6e3c" stroke-width="0.5"/>
<circle cx="413.0" cy="257.3" r="2.6" fill="#0f9f58" stroke="#0a6e3c" stroke-width="0.5"/>
<circle cx="415.7" cy="261.9" r="2.6" fill="#0f9f58" stroke="#0a6e3c" stroke-width="0.5"/>
<circle cx="416.2" cy="267.2" r="2.6" fill="#0f9f58" stroke="#0a6e3c" stroke-width="0.5"/>
<circle cx="415.9" cy="271.9" r="2.6" fill="#0f9f58" stroke="#0a6e3c" stroke-width="0.5"/>
<circle cx="413.8" cy="278.6" r="2.6" fill="#0f9f58" stroke="#0a6e3c" stroke-width="0.5"/>
<circle cx="411.2" cy="283.2" r="2.6" fill="#0f9f58" stroke="#0a6e3c" stroke-width="0.5"/>
<circle cx="408.6" cy="285.8" r="2.6" fill="#0f9f58" stroke="#0a6e3c" stroke-width="0.5"/>
<circle cx="403.5" cy="288.6" r="2.6" fill="#0f9f58" stroke="#0a6e3c" stroke-width="0.5"/>
<circle cx="397.4" cy="289.6" r="2.6" fill="#0f9f58" stroke="#0a6e3c" stroke-width="0.5"/>
<circle cx="392.4" cy="289.6" r="2.6" fill="#0f9f58" stroke="#0a6e3c" stroke-width="0.5"/>
<circle cx="387.0" cy="288.7" r="2.6" fill="#0f9f58" stroke="#0a6e3c" stroke-width="0.5"/>
<circle cx="384.0" cy="286.9" r="2.6" fill="#0f9f58" stroke="#0a6e3c" stroke-width="0.5"/>
<circle cx="379.1" cy="282.2" r="2.6" fill="#0f9f58" stroke="#0a6e3c" stroke-width="0.5"/>
<circle cx="375.6" cy="277.7" r="2.6" fill="#0f9f58" stroke="#0a6e3c" stroke-width="0.5"/>
<circle cx="374.8" cy="273.6" r="2.6" fill="#0f9f58" stroke="#0a6e3c" stroke-width="0.5"/>
<circle cx="374.6" cy="268.3" r="2.6" fill="#0f9f58" stroke="#0a6e3c" stroke-width="0.5"/>
<circle cx="375.2" cy="263.7" r="2.6" fill="#0f9f58" stroke="#0a6e3c" stroke-width="0.5"/>
<circle cx="377.8" cy="257.3" r="2.6" fill="#0f9f58" stroke="#0a6e3c" stroke-width="0.5"/>
<circle cx="515.5" cy="270.0" r="15.0" fill="url(#coreS)"/>
<ellipse cx="509.4" cy="263.9" rx="8.2" ry="3.8" transform="rotate(-45 509.4 263.9)" fill="#fbd3a2" opacity="0.85"/>
<circle cx="499.9" cy="274.7" r="2.3" fill="#0f9f58" stroke="#0a6e3c" stroke-width="0.5"/>
<circle cx="499.2" cy="270.3" r="2.3" fill="#0f9f58" stroke="#0a6e3c" stroke-width="0.5"/>
<circle cx="500.6" cy="264.7" r="2.3" fill="#0f9f58" stroke="#0a6e3c" stroke-width="0.5"/>
<circle cx="501.5" cy="261.0" r="2.3" fill="#0f9f58" stroke="#0a6e3c" stroke-width="0.5"/>
<circle cx="504.5" cy="257.2" r="2.3" fill="#0f9f58" stroke="#0a6e3c" stroke-width="0.5"/>
<circle cx="509.9" cy="254.5" r="2.3" fill="#0f9f58" stroke="#0a6e3c" stroke-width="0.5"/>
<circle cx="513.7" cy="253.8" r="2.3" fill="#0f9f58" stroke="#0a6e3c" stroke-width="0.5"/>
<circle cx="518.8" cy="254.3" r="2.3" fill="#0f9f58" stroke="#0a6e3c" stroke-width="0.5"/>
<circle cx="523.7" cy="256.0" r="2.3" fill="#0f9f58" stroke="#0a6e3c" stroke-width="0.5"/>
<circle cx="527.7" cy="259.0" r="2.3" fill="#0f9f58" stroke="#0a6e3c" stroke-width="0.5"/>
<circle cx="530.3" cy="263.4" r="2.3" fill="#0f9f58" stroke="#0a6e3c" stroke-width="0.5"/>
<circle cx="532.3" cy="268.5" r="2.3" fill="#0f9f58" stroke="#0a6e3c" stroke-width="0.5"/>
<circle cx="531.3" cy="272.9" r="2.3" fill="#0f9f58" stroke="#0a6e3c" stroke-width="0.5"/>
<circle cx="529.8" cy="276.7" r="2.3" fill="#0f9f58" stroke="#0a6e3c" stroke-width="0.5"/>
<circle cx="527.7" cy="281.4" r="2.3" fill="#0f9f58" stroke="#0a6e3c" stroke-width="0.5"/>
<circle cx="523.0" cy="284.9" r="2.3" fill="#0f9f58" stroke="#0a6e3c" stroke-width="0.5"/>
<circle cx="519.5" cy="286.3" r="2.3" fill="#0f9f58" stroke="#0a6e3c" stroke-width="0.5"/>
<circle cx="513.3" cy="286.0" r="2.3" fill="#0f9f58" stroke="#0a6e3c" stroke-width="0.5"/>
<circle cx="509.0" cy="285.3" r="2.3" fill="#0f9f58" stroke="#0a6e3c" stroke-width="0.5"/>
<circle cx="505.8" cy="282.9" r="2.3" fill="#0f9f58" stroke="#0a6e3c" stroke-width="0.5"/>
<circle cx="502.1" cy="278.4" r="2.3" fill="#0f9f58" stroke="#0a6e3c" stroke-width="0.5"/>
<circle cx="495.2" cy="275.7" r="2.3" fill="#0f9f58" stroke="#0a6e3c" stroke-width="0.5"/>
<circle cx="494.9" cy="269.6" r="2.3" fill="#0f9f58" stroke="#0a6e3c" stroke-width="0.5"/>
<circle cx="496.0" cy="264.5" r="2.3" fill="#0f9f58" stroke="#0a6e3c" stroke-width="0.5"/>
<circle cx="497.0" cy="260.9" r="2.3" fill="#0f9f58" stroke="#0a6e3c" stroke-width="0.5"/>
<circle cx="499.4" cy="256.1" r="2.3" fill="#0f9f58" stroke="#0a6e3c" stroke-width="0.5"/>
<circle cx="503.4" cy="252.7" r="2.3" fill="#0f9f58" stroke="#0a6e3c" stroke-width="0.5"/>
<circle cx="508.0" cy="250.2" r="2.3" fill="#0f9f58" stroke="#0a6e3c" stroke-width="0.5"/>
<circle cx="512.4" cy="248.9" r="2.3" fill="#0f9f58" stroke="#0a6e3c" stroke-width="0.5"/>
<circle cx="517.8" cy="249.1" r="2.3" fill="#0f9f58" stroke="#0a6e3c" stroke-width="0.5"/>
<circle cx="522.5" cy="251.1" r="2.3" fill="#0f9f58" stroke="#0a6e3c" stroke-width="0.5"/>
<circle cx="527.4" cy="253.5" r="2.3" fill="#0f9f58" stroke="#0a6e3c" stroke-width="0.5"/>
<circle cx="530.9" cy="256.3" r="2.3" fill="#0f9f58" stroke="#0a6e3c" stroke-width="0.5"/>
<circle cx="534.0" cy="260.5" r="2.3" fill="#0f9f58" stroke="#0a6e3c" stroke-width="0.5"/>
<circle cx="535.1" cy="264.8" r="2.3" fill="#0f9f58" stroke="#0a6e3c" stroke-width="0.5"/>
<circle cx="535.9" cy="270.9" r="2.3" fill="#0f9f58" stroke="#0a6e3c" stroke-width="0.5"/>
<circle cx="535.9" cy="275.8" r="2.3" fill="#0f9f58" stroke="#0a6e3c" stroke-width="0.5"/>
<circle cx="533.6" cy="280.9" r="2.3" fill="#0f9f58" stroke="#0a6e3c" stroke-width="0.5"/>
<circle cx="530.6" cy="283.5" r="2.3" fill="#0f9f58" stroke="#0a6e3c" stroke-width="0.5"/>
<circle cx="526.1" cy="287.4" r="2.3" fill="#0f9f58" stroke="#0a6e3c" stroke-width="0.5"/>
<circle cx="523.2" cy="289.6" r="2.3" fill="#0f9f58" stroke="#0a6e3c" stroke-width="0.5"/>
<circle cx="518.1" cy="290.1" r="2.3" fill="#0f9f58" stroke="#0a6e3c" stroke-width="0.5"/>
<circle cx="513.7" cy="290.3" r="2.3" fill="#0f9f58" stroke="#0a6e3c" stroke-width="0.5"/>
<circle cx="507.2" cy="289.1" r="2.3" fill="#0f9f58" stroke="#0a6e3c" stroke-width="0.5"/>
<circle cx="503.1" cy="286.1" r="2.3" fill="#0f9f58" stroke="#0a6e3c" stroke-width="0.5"/>
<circle cx="500.2" cy="283.8" r="2.3" fill="#0f9f58" stroke="#0a6e3c" stroke-width="0.5"/>
<circle cx="497.5" cy="279.9" r="2.3" fill="#0f9f58" stroke="#0a6e3c" stroke-width="0.5"/>
<circle cx="491.2" cy="277.5" r="2.3" fill="#0f9f58" stroke="#0a6e3c" stroke-width="0.5"/>
<circle cx="490.6" cy="266.8" r="2.3" fill="#0f9f58" stroke="#0a6e3c" stroke-width="0.5"/>
<circle cx="491.9" cy="263.8" r="2.3" fill="#0f9f58" stroke="#0a6e3c" stroke-width="0.5"/>
<circle cx="493.3" cy="257.3" r="2.3" fill="#0f9f58" stroke="#0a6e3c" stroke-width="0.5"/>
<circle cx="496.6" cy="253.7" r="2.3" fill="#0f9f58" stroke="#0a6e3c" stroke-width="0.5"/>
<circle cx="499.1" cy="250.3" r="2.3" fill="#0f9f58" stroke="#0a6e3c" stroke-width="0.5"/>
<circle cx="503.9" cy="247.5" r="2.3" fill="#0f9f58" stroke="#0a6e3c" stroke-width="0.5"/>
<circle cx="509.0" cy="245.6" r="2.3" fill="#0f9f58" stroke="#0a6e3c" stroke-width="0.5"/>
<circle cx="514.3" cy="245.2" r="2.3" fill="#0f9f58" stroke="#0a6e3c" stroke-width="0.5"/>
<circle cx="519.3" cy="244.8" r="2.3" fill="#0f9f58" stroke="#0a6e3c" stroke-width="0.5"/>
<circle cx="523.8" cy="246.0" r="2.3" fill="#0f9f58" stroke="#0a6e3c" stroke-width="0.5"/>
<circle cx="527.7" cy="248.3" r="2.3" fill="#0f9f58" stroke="#0a6e3c" stroke-width="0.5"/>
<circle cx="531.4" cy="251.4" r="2.3" fill="#0f9f58" stroke="#0a6e3c" stroke-width="0.5"/>
<circle cx="536.1" cy="255.0" r="2.3" fill="#0f9f58" stroke="#0a6e3c" stroke-width="0.5"/>
<circle cx="537.8" cy="258.0" r="2.3" fill="#0f9f58" stroke="#0a6e3c" stroke-width="0.5"/>
<circle cx="539.8" cy="262.7" r="2.3" fill="#0f9f58" stroke="#0a6e3c" stroke-width="0.5"/>
<circle cx="539.9" cy="268.4" r="2.3" fill="#0f9f58" stroke="#0a6e3c" stroke-width="0.5"/>
<circle cx="540.0" cy="272.6" r="2.3" fill="#0f9f58" stroke="#0a6e3c" stroke-width="0.5"/>
<circle cx="539.5" cy="277.5" r="2.3" fill="#0f9f58" stroke="#0a6e3c" stroke-width="0.5"/>
<circle cx="537.2" cy="281.2" r="2.3" fill="#0f9f58" stroke="#0a6e3c" stroke-width="0.5"/>
<circle cx="534.1" cy="286.2" r="2.3" fill="#0f9f58" stroke="#0a6e3c" stroke-width="0.5"/>
<circle cx="530.5" cy="290.3" r="2.3" fill="#0f9f58" stroke="#0a6e3c" stroke-width="0.5"/>
<circle cx="526.1" cy="292.4" r="2.3" fill="#0f9f58" stroke="#0a6e3c" stroke-width="0.5"/>
<circle cx="523.2" cy="293.7" r="2.3" fill="#0f9f58" stroke="#0a6e3c" stroke-width="0.5"/>
<circle cx="516.7" cy="295.4" r="2.3" fill="#0f9f58" stroke="#0a6e3c" stroke-width="0.5"/>
<circle cx="512.6" cy="294.6" r="2.3" fill="#0f9f58" stroke="#0a6e3c" stroke-width="0.5"/>
<circle cx="507.9" cy="294.2" r="2.3" fill="#0f9f58" stroke="#0a6e3c" stroke-width="0.5"/>
<circle cx="502.8" cy="292.1" r="2.3" fill="#0f9f58" stroke="#0a6e3c" stroke-width="0.5"/>
<circle cx="500.1" cy="289.6" r="2.3" fill="#0f9f58" stroke="#0a6e3c" stroke-width="0.5"/>
<circle cx="496.6" cy="286.2" r="2.3" fill="#0f9f58" stroke="#0a6e3c" stroke-width="0.5"/>
<circle cx="493.5" cy="281.5" r="2.3" fill="#0f9f58" stroke="#0a6e3c" stroke-width="0.5"/>
<circle cx="486.9" cy="270.6" r="2.3" fill="#0f9f58" stroke="#0a6e3c" stroke-width="0.5"/>
<circle cx="488.3" cy="259.0" r="2.3" fill="#0f9f58" stroke="#0a6e3c" stroke-width="0.5"/>
<circle cx="491.3" cy="254.8" r="2.3" fill="#0f9f58" stroke="#0a6e3c" stroke-width="0.5"/>
<circle cx="493.6" cy="251.6" r="2.3" fill="#0f9f58" stroke="#0a6e3c" stroke-width="0.5"/>
<circle cx="500.2" cy="245.8" r="2.3" fill="#0f9f58" stroke="#0a6e3c" stroke-width="0.5"/>
<circle cx="510.4" cy="241.1" r="2.3" fill="#0f9f58" stroke="#0a6e3c" stroke-width="0.5"/>
<circle cx="529.0" cy="244.5" r="2.3" fill="#0f9f58" stroke="#0a6e3c" stroke-width="0.5"/>
<circle cx="533.5" cy="246.7" r="2.3" fill="#0f9f58" stroke="#0a6e3c" stroke-width="0.5"/>
<circle cx="536.5" cy="249.9" r="2.3" fill="#0f9f58" stroke="#0a6e3c" stroke-width="0.5"/>
<circle cx="542.8" cy="258.8" r="2.3" fill="#0f9f58" stroke="#0a6e3c" stroke-width="0.5"/>
<circle cx="544.6" cy="264.0" r="2.3" fill="#0f9f58" stroke="#0a6e3c" stroke-width="0.5"/>
<circle cx="545.0" cy="269.5" r="2.3" fill="#0f9f58" stroke="#0a6e3c" stroke-width="0.5"/>
<circle cx="544.7" cy="273.0" r="2.3" fill="#0f9f58" stroke="#0a6e3c" stroke-width="0.5"/>
<circle cx="542.1" cy="283.0" r="2.3" fill="#0f9f58" stroke="#0a6e3c" stroke-width="0.5"/>
<circle cx="531.8" cy="293.8" r="2.3" fill="#0f9f58" stroke="#0a6e3c" stroke-width="0.5"/>
<circle cx="507.4" cy="298.7" r="2.3" fill="#0f9f58" stroke="#0a6e3c" stroke-width="0.5"/>
<circle cx="499.0" cy="293.9" r="2.3" fill="#0f9f58" stroke="#0a6e3c" stroke-width="0.5"/>
<circle cx="490.3" cy="284.7" r="2.3" fill="#0f9f58" stroke="#0a6e3c" stroke-width="0.5"/>
<circle cx="487.5" cy="278.3" r="2.3" fill="#0f9f58" stroke="#0a6e3c" stroke-width="0.5"/>
<circle cx="593.0" cy="269.5" r="15.0" fill="url(#coreS)"/>
<ellipse cx="586.9" cy="263.4" rx="8.2" ry="3.8" transform="rotate(-45 586.9 263.4)" fill="#fbd3a2" opacity="0.85"/>
<circle cx="600.6" cy="283.5" r="2.3" fill="#0f9f58" stroke="#0a6e3c" stroke-width="0.5"/>
<circle cx="595.7" cy="285.6" r="2.3" fill="#0f9f58" stroke="#0a6e3c" stroke-width="0.5"/>
<circle cx="591.8" cy="285.2" r="2.3" fill="#0f9f58" stroke="#0a6e3c" stroke-width="0.5"/>
<circle cx="586.7" cy="284.0" r="2.3" fill="#0f9f58" stroke="#0a6e3c" stroke-width="0.5"/>
<circle cx="583.0" cy="282.0" r="2.3" fill="#0f9f58" stroke="#0a6e3c" stroke-width="0.5"/>
<circle cx="578.6" cy="277.8" r="2.3" fill="#0f9f58" stroke="#0a6e3c" stroke-width="0.5"/>
<circle cx="577.8" cy="273.6" r="2.3" fill="#0f9f58" stroke="#0a6e3c" stroke-width="0.5"/>
<circle cx="577.2" cy="269.1" r="2.3" fill="#0f9f58" stroke="#0a6e3c" stroke-width="0.5"/>
<circle cx="577.9" cy="264.6" r="2.3" fill="#0f9f58" stroke="#0a6e3c" stroke-width="0.5"/>
<circle cx="579.0" cy="260.2" r="2.3" fill="#0f9f58" stroke="#0a6e3c" stroke-width="0.5"/>
<circle cx="583.4" cy="256.6" r="2.3" fill="#0f9f58" stroke="#0a6e3c" stroke-width="0.5"/>
<circle cx="587.2" cy="254.9" r="2.3" fill="#0f9f58" stroke="#0a6e3c" stroke-width="0.5"/>
<circle cx="591.8" cy="252.9" r="2.3" fill="#0f9f58" stroke="#0a6e3c" stroke-width="0.5"/>
<circle cx="597.9" cy="253.5" r="2.3" fill="#0f9f58" stroke="#0a6e3c" stroke-width="0.5"/>
<circle cx="601.9" cy="255.8" r="2.3" fill="#0f9f58" stroke="#0a6e3c" stroke-width="0.5"/>
<circle cx="604.8" cy="258.3" r="2.3" fill="#0f9f58" stroke="#0a6e3c" stroke-width="0.5"/>
<circle cx="608.1" cy="262.2" r="2.3" fill="#0f9f58" stroke="#0a6e3c" stroke-width="0.5"/>
<circle cx="609.0" cy="267.4" r="2.3" fill="#0f9f58" stroke="#0a6e3c" stroke-width="0.5"/>
<circle cx="609.7" cy="272.3" r="2.3" fill="#0f9f58" stroke="#0a6e3c" stroke-width="0.5"/>
<circle cx="607.4" cy="276.1" r="2.3" fill="#0f9f58" stroke="#0a6e3c" stroke-width="0.5"/>
<circle cx="604.1" cy="281.5" r="2.3" fill="#0f9f58" stroke="#0a6e3c" stroke-width="0.5"/>
<circle cx="600.8" cy="288.3" r="2.3" fill="#0f9f58" stroke="#0a6e3c" stroke-width="0.5"/>
<circle cx="596.5" cy="290.1" r="2.3" fill="#0f9f58" stroke="#0a6e3c" stroke-width="0.5"/>
<circle cx="592.3" cy="290.0" r="2.3" fill="#0f9f58" stroke="#0a6e3c" stroke-width="0.5"/>
<circle cx="587.0" cy="289.4" r="2.3" fill="#0f9f58" stroke="#0a6e3c" stroke-width="0.5"/>
<circle cx="583.1" cy="287.1" r="2.3" fill="#0f9f58" stroke="#0a6e3c" stroke-width="0.5"/>
<circle cx="578.0" cy="283.5" r="2.3" fill="#0f9f58" stroke="#0a6e3c" stroke-width="0.5"/>
<circle cx="574.6" cy="280.0" r="2.3" fill="#0f9f58" stroke="#0a6e3c" stroke-width="0.5"/>
<circle cx="572.7" cy="275.9" r="2.3" fill="#0f9f58" stroke="#0a6e3c" stroke-width="0.5"/>
<circle cx="571.9" cy="270.4" r="2.3" fill="#0f9f58" stroke="#0a6e3c" stroke-width="0.5"/>
<circle cx="572.9" cy="265.9" r="2.3" fill="#0f9f58" stroke="#0a6e3c" stroke-width="0.5"/>
<circle cx="574.4" cy="261.7" r="2.3" fill="#0f9f58" stroke="#0a6e3c" stroke-width="0.5"/>
<circle cx="577.2" cy="256.2" r="2.3" fill="#0f9f58" stroke="#0a6e3c" stroke-width="0.5"/>
<circle cx="579.8" cy="253.9" r="2.3" fill="#0f9f58" stroke="#0a6e3c" stroke-width="0.5"/>
<circle cx="584.7" cy="251.0" r="2.3" fill="#0f9f58" stroke="#0a6e3c" stroke-width="0.5"/>
<circle cx="589.0" cy="248.7" r="2.3" fill="#0f9f58" stroke="#0a6e3c" stroke-width="0.5"/>
<circle cx="599.2" cy="250.1" r="2.3" fill="#0f9f58" stroke="#0a6e3c" stroke-width="0.5"/>
<circle cx="604.0" cy="251.7" r="2.3" fill="#0f9f58" stroke="#0a6e3c" stroke-width="0.5"/>
<circle cx="607.6" cy="254.3" r="2.3" fill="#0f9f58" stroke="#0a6e3c" stroke-width="0.5"/>
<circle cx="611.3" cy="259.6" r="2.3" fill="#0f9f58" stroke="#0a6e3c" stroke-width="0.5"/>
<circle cx="613.3" cy="263.5" r="2.3" fill="#0f9f58" stroke="#0a6e3c" stroke-width="0.5"/>
<circle cx="613.4" cy="268.5" r="2.3" fill="#0f9f58" stroke="#0a6e3c" stroke-width="0.5"/>
<circle cx="613.7" cy="272.4" r="2.3" fill="#0f9f58" stroke="#0a6e3c" stroke-width="0.5"/>
<circle cx="612.3" cy="277.3" r="2.3" fill="#0f9f58" stroke="#0a6e3c" stroke-width="0.5"/>
<circle cx="608.8" cy="283.0" r="2.3" fill="#0f9f58" stroke="#0a6e3c" stroke-width="0.5"/>
<circle cx="606.1" cy="286.2" r="2.3" fill="#0f9f58" stroke="#0a6e3c" stroke-width="0.5"/>
<circle cx="604.6" cy="291.1" r="2.3" fill="#0f9f58" stroke="#0a6e3c" stroke-width="0.5"/>
<circle cx="599.4" cy="293.2" r="2.3" fill="#0f9f58" stroke="#0a6e3c" stroke-width="0.5"/>
<circle cx="594.1" cy="294.0" r="2.3" fill="#0f9f58" stroke="#0a6e3c" stroke-width="0.5"/>
<circle cx="590.1" cy="294.3" r="2.3" fill="#0f9f58" stroke="#0a6e3c" stroke-width="0.5"/>
<circle cx="585.8" cy="293.0" r="2.3" fill="#0f9f58" stroke="#0a6e3c" stroke-width="0.5"/>
<circle cx="579.9" cy="290.9" r="2.3" fill="#0f9f58" stroke="#0a6e3c" stroke-width="0.5"/>
<circle cx="575.7" cy="288.2" r="2.3" fill="#0f9f58" stroke="#0a6e3c" stroke-width="0.5"/>
<circle cx="573.1" cy="283.7" r="2.3" fill="#0f9f58" stroke="#0a6e3c" stroke-width="0.5"/>
<circle cx="570.7" cy="281.6" r="2.3" fill="#0f9f58" stroke="#0a6e3c" stroke-width="0.5"/>
<circle cx="569.0" cy="275.3" r="2.3" fill="#0f9f58" stroke="#0a6e3c" stroke-width="0.5"/>
<circle cx="568.6" cy="271.4" r="2.3" fill="#0f9f58" stroke="#0a6e3c" stroke-width="0.5"/>
<circle cx="567.7" cy="266.5" r="2.3" fill="#0f9f58" stroke="#0a6e3c" stroke-width="0.5"/>
<circle cx="569.3" cy="261.3" r="2.3" fill="#0f9f58" stroke="#0a6e3c" stroke-width="0.5"/>
<circle cx="574.4" cy="252.7" r="2.3" fill="#0f9f58" stroke="#0a6e3c" stroke-width="0.5"/>
<circle cx="579.0" cy="249.1" r="2.3" fill="#0f9f58" stroke="#0a6e3c" stroke-width="0.5"/>
<circle cx="582.1" cy="246.9" r="2.3" fill="#0f9f58" stroke="#0a6e3c" stroke-width="0.5"/>
<circle cx="587.3" cy="244.6" r="2.3" fill="#0f9f58" stroke="#0a6e3c" stroke-width="0.5"/>
<circle cx="591.0" cy="244.0" r="2.3" fill="#0f9f58" stroke="#0a6e3c" stroke-width="0.5"/>
<circle cx="595.3" cy="245.1" r="2.3" fill="#0f9f58" stroke="#0a6e3c" stroke-width="0.5"/>
<circle cx="601.7" cy="246.1" r="2.3" fill="#0f9f58" stroke="#0a6e3c" stroke-width="0.5"/>
<circle cx="604.6" cy="247.2" r="2.3" fill="#0f9f58" stroke="#0a6e3c" stroke-width="0.5"/>
<circle cx="609.5" cy="250.9" r="2.3" fill="#0f9f58" stroke="#0a6e3c" stroke-width="0.5"/>
<circle cx="612.1" cy="254.2" r="2.3" fill="#0f9f58" stroke="#0a6e3c" stroke-width="0.5"/>
<circle cx="615.4" cy="257.9" r="2.3" fill="#0f9f58" stroke="#0a6e3c" stroke-width="0.5"/>
<circle cx="617.3" cy="263.7" r="2.3" fill="#0f9f58" stroke="#0a6e3c" stroke-width="0.5"/>
<circle cx="617.9" cy="267.7" r="2.3" fill="#0f9f58" stroke="#0a6e3c" stroke-width="0.5"/>
<circle cx="617.1" cy="273.9" r="2.3" fill="#0f9f58" stroke="#0a6e3c" stroke-width="0.5"/>
<circle cx="616.9" cy="277.7" r="2.3" fill="#0f9f58" stroke="#0a6e3c" stroke-width="0.5"/>
<circle cx="614.4" cy="282.8" r="2.3" fill="#0f9f58" stroke="#0a6e3c" stroke-width="0.5"/>
<circle cx="611.8" cy="286.7" r="2.3" fill="#0f9f58" stroke="#0a6e3c" stroke-width="0.5"/>
<circle cx="607.6" cy="289.4" r="2.3" fill="#0f9f58" stroke="#0a6e3c" stroke-width="0.5"/>
<circle cx="603.3" cy="297.2" r="2.3" fill="#0f9f58" stroke="#0a6e3c" stroke-width="0.5"/>
<circle cx="589.4" cy="298.2" r="2.3" fill="#0f9f58" stroke="#0a6e3c" stroke-width="0.5"/>
<circle cx="585.0" cy="297.6" r="2.3" fill="#0f9f58" stroke="#0a6e3c" stroke-width="0.5"/>
<circle cx="579.7" cy="296.1" r="2.3" fill="#0f9f58" stroke="#0a6e3c" stroke-width="0.5"/>
<circle cx="572.0" cy="290.6" r="2.3" fill="#0f9f58" stroke="#0a6e3c" stroke-width="0.5"/>
<circle cx="566.2" cy="281.6" r="2.3" fill="#0f9f58" stroke="#0a6e3c" stroke-width="0.5"/>
<circle cx="564.0" cy="270.2" r="2.3" fill="#0f9f58" stroke="#0a6e3c" stroke-width="0.5"/>
<circle cx="564.5" cy="265.6" r="2.3" fill="#0f9f58" stroke="#0a6e3c" stroke-width="0.5"/>
<circle cx="567.0" cy="256.9" r="2.3" fill="#0f9f58" stroke="#0a6e3c" stroke-width="0.5"/>
<circle cx="569.9" cy="251.8" r="2.3" fill="#0f9f58" stroke="#0a6e3c" stroke-width="0.5"/>
<circle cx="572.7" cy="248.9" r="2.3" fill="#0f9f58" stroke="#0a6e3c" stroke-width="0.5"/>
<circle cx="575.9" cy="246.2" r="2.3" fill="#0f9f58" stroke="#0a6e3c" stroke-width="0.5"/>
<circle cx="581.7" cy="243.2" r="2.3" fill="#0f9f58" stroke="#0a6e3c" stroke-width="0.5"/>
<circle cx="599.5" cy="241.6" r="2.3" fill="#0f9f58" stroke="#0a6e3c" stroke-width="0.5"/>
<circle cx="604.7" cy="243.1" r="2.3" fill="#0f9f58" stroke="#0a6e3c" stroke-width="0.5"/>
<circle cx="608.5" cy="245.4" r="2.3" fill="#0f9f58" stroke="#0a6e3c" stroke-width="0.5"/>
<circle cx="612.9" cy="247.4" r="2.3" fill="#0f9f58" stroke="#0a6e3c" stroke-width="0.5"/>
<circle cx="615.6" cy="250.5" r="2.3" fill="#0f9f58" stroke="#0a6e3c" stroke-width="0.5"/>
<circle cx="619.9" cy="259.1" r="2.3" fill="#0f9f58" stroke="#0a6e3c" stroke-width="0.5"/>
<circle cx="621.6" cy="265.2" r="2.3" fill="#0f9f58" stroke="#0a6e3c" stroke-width="0.5"/>
<circle cx="614.9" cy="288.1" r="2.3" fill="#0f9f58" stroke="#0a6e3c" stroke-width="0.5"/>
<circle cx="652.6" cy="269.2" r="14.8" fill="url(#coreS)"/>
<ellipse cx="646.5" cy="263.1" rx="8.1" ry="3.7" transform="rotate(-45 646.5 263.1)" fill="#fbd3a2" opacity="0.85"/>
<circle cx="667.8" cy="262.3" r="2.6" fill="#0f9f58" stroke="#0a6e3c" stroke-width="0.5"/>
<circle cx="668.7" cy="268.1" r="2.6" fill="#0f9f58" stroke="#0a6e3c" stroke-width="0.5"/>
<circle cx="668.4" cy="273.1" r="2.6" fill="#0f9f58" stroke="#0a6e3c" stroke-width="0.5"/>
<circle cx="666.6" cy="277.1" r="2.6" fill="#0f9f58" stroke="#0a6e3c" stroke-width="0.5"/>
<circle cx="663.4" cy="281.9" r="2.6" fill="#0f9f58" stroke="#0a6e3c" stroke-width="0.5"/>
<circle cx="658.8" cy="284.0" r="2.6" fill="#0f9f58" stroke="#0a6e3c" stroke-width="0.5"/>
<circle cx="653.6" cy="286.0" r="2.6" fill="#0f9f58" stroke="#0a6e3c" stroke-width="0.5"/>
<circle cx="647.9" cy="284.9" r="2.6" fill="#0f9f58" stroke="#0a6e3c" stroke-width="0.5"/>
<circle cx="643.9" cy="283.5" r="2.6" fill="#0f9f58" stroke="#0a6e3c" stroke-width="0.5"/>
<circle cx="640.4" cy="279.8" r="2.6" fill="#0f9f58" stroke="#0a6e3c" stroke-width="0.5"/>
<circle cx="637.0" cy="275.1" r="2.6" fill="#0f9f58" stroke="#0a6e3c" stroke-width="0.5"/>
<circle cx="636.4" cy="270.1" r="2.6" fill="#0f9f58" stroke="#0a6e3c" stroke-width="0.5"/>
<circle cx="636.1" cy="265.4" r="2.6" fill="#0f9f58" stroke="#0a6e3c" stroke-width="0.5"/>
<circle cx="638.6" cy="261.2" r="2.6" fill="#0f9f58" stroke="#0a6e3c" stroke-width="0.5"/>
<circle cx="641.6" cy="256.6" r="2.6" fill="#0f9f58" stroke="#0a6e3c" stroke-width="0.5"/>
<circle cx="646.2" cy="254.1" r="2.6" fill="#0f9f58" stroke="#0a6e3c" stroke-width="0.5"/>
<circle cx="651.1" cy="252.3" r="2.6" fill="#0f9f58" stroke="#0a6e3c" stroke-width="0.5"/>
<circle cx="656.1" cy="253.5" r="2.6" fill="#0f9f58" stroke="#0a6e3c" stroke-width="0.5"/>
<circle cx="661.9" cy="255.0" r="2.6" fill="#0f9f58" stroke="#0a6e3c" stroke-width="0.5"/>
<circle cx="665.8" cy="258.3" r="2.6" fill="#0f9f58" stroke="#0a6e3c" stroke-width="0.5"/>
<circle cx="672.9" cy="261.5" r="2.6" fill="#0f9f58" stroke="#0a6e3c" stroke-width="0.5"/>
<circle cx="673.1" cy="267.5" r="2.6" fill="#0f9f58" stroke="#0a6e3c" stroke-width="0.5"/>
<circle cx="673.9" cy="273.4" r="2.6" fill="#0f9f58" stroke="#0a6e3c" stroke-width="0.5"/>
<circle cx="671.4" cy="278.8" r="2.6" fill="#0f9f58" stroke="#0a6e3c" stroke-width="0.5"/>
<circle cx="668.6" cy="282.7" r="2.6" fill="#0f9f58" stroke="#0a6e3c" stroke-width="0.5"/>
<circle cx="665.2" cy="285.6" r="2.6" fill="#0f9f58" stroke="#0a6e3c" stroke-width="0.5"/>
<circle cx="660.6" cy="288.3" r="2.6" fill="#0f9f58" stroke="#0a6e3c" stroke-width="0.5"/>
<circle cx="654.6" cy="289.9" r="2.6" fill="#0f9f58" stroke="#0a6e3c" stroke-width="0.5"/>
<circle cx="650.2" cy="289.8" r="2.6" fill="#0f9f58" stroke="#0a6e3c" stroke-width="0.5"/>
<circle cx="644.6" cy="288.4" r="2.6" fill="#0f9f58" stroke="#0a6e3c" stroke-width="0.5"/>
<circle cx="639.8" cy="285.9" r="2.6" fill="#0f9f58" stroke="#0a6e3c" stroke-width="0.5"/>
<circle cx="635.7" cy="282.5" r="2.6" fill="#0f9f58" stroke="#0a6e3c" stroke-width="0.5"/>
<circle cx="633.6" cy="278.0" r="2.6" fill="#0f9f58" stroke="#0a6e3c" stroke-width="0.5"/>
<circle cx="631.6" cy="272.8" r="2.6" fill="#0f9f58" stroke="#0a6e3c" stroke-width="0.5"/>
<circle cx="631.6" cy="268.6" r="2.6" fill="#0f9f58" stroke="#0a6e3c" stroke-width="0.5"/>
<circle cx="632.4" cy="262.8" r="2.6" fill="#0f9f58" stroke="#0a6e3c" stroke-width="0.5"/>
<circle cx="634.1" cy="258.8" r="2.6" fill="#0f9f58" stroke="#0a6e3c" stroke-width="0.5"/>
<circle cx="637.8" cy="253.6" r="2.6" fill="#0f9f58" stroke="#0a6e3c" stroke-width="0.5"/>
<circle cx="643.2" cy="250.9" r="2.6" fill="#0f9f58" stroke="#0a6e3c" stroke-width="0.5"/>
<circle cx="647.2" cy="249.1" r="2.6" fill="#0f9f58" stroke="#0a6e3c" stroke-width="0.5"/>
<circle cx="652.2" cy="248.2" r="2.6" fill="#0f9f58" stroke="#0a6e3c" stroke-width="0.5"/>
<circle cx="656.5" cy="248.6" r="2.6" fill="#0f9f58" stroke="#0a6e3c" stroke-width="0.5"/>
<circle cx="662.0" cy="249.8" r="2.6" fill="#0f9f58" stroke="#0a6e3c" stroke-width="0.5"/>
<circle cx="666.8" cy="254.2" r="2.6" fill="#0f9f58" stroke="#0a6e3c" stroke-width="0.5"/>
<circle cx="669.7" cy="257.8" r="2.6" fill="#0f9f58" stroke="#0a6e3c" stroke-width="0.5"/>
<circle cx="764.3" cy="270.2" r="15.3" fill="url(#coreS)"/>
<ellipse cx="758.0" cy="263.9" rx="8.4" ry="3.8" transform="rotate(-45 758.0 263.9)" fill="#fbd3a2" opacity="0.85"/>
<circle cx="747.9" cy="266.0" r="2.6" fill="#0f9f58" stroke="#0a6e3c" stroke-width="0.5"/>
<circle cx="749.7" cy="260.7" r="2.6" fill="#0f9f58" stroke="#0a6e3c" stroke-width="0.5"/>
<circle cx="753.9" cy="257.3" r="2.6" fill="#0f9f58" stroke="#0a6e3c" stroke-width="0.5"/>
<circle cx="759.3" cy="254.3" r="2.6" fill="#0f9f58" stroke="#0a6e3c" stroke-width="0.5"/>
<circle cx="763.4" cy="253.0" r="2.6" fill="#0f9f58" stroke="#0a6e3c" stroke-width="0.5"/>
<circle cx="768.3" cy="253.9" r="2.6" fill="#0f9f58" stroke="#0a6e3c" stroke-width="0.5"/>
<circle cx="774.1" cy="256.3" r="2.6" fill="#0f9f58" stroke="#0a6e3c" stroke-width="0.5"/>
<circle cx="777.5" cy="260.1" r="2.6" fill="#0f9f58" stroke="#0a6e3c" stroke-width="0.5"/>
<circle cx="779.9" cy="263.9" r="2.6" fill="#0f9f58" stroke="#0a6e3c" stroke-width="0.5"/>
<circle cx="781.5" cy="269.5" r="2.6" fill="#0f9f58" stroke="#0a6e3c" stroke-width="0.5"/>
<circle cx="780.7" cy="274.9" r="2.6" fill="#0f9f58" stroke="#0a6e3c" stroke-width="0.5"/>
<circle cx="778.5" cy="279.9" r="2.6" fill="#0f9f58" stroke="#0a6e3c" stroke-width="0.5"/>
<circle cx="774.1" cy="283.8" r="2.6" fill="#0f9f58" stroke="#0a6e3c" stroke-width="0.5"/>
<circle cx="770.7" cy="285.6" r="2.6" fill="#0f9f58" stroke="#0a6e3c" stroke-width="0.5"/>
<circle cx="765.2" cy="287.0" r="2.6" fill="#0f9f58" stroke="#0a6e3c" stroke-width="0.5"/>
<circle cx="759.7" cy="287.0" r="2.6" fill="#0f9f58" stroke="#0a6e3c" stroke-width="0.5"/>
<circle cx="755.0" cy="284.8" r="2.6" fill="#0f9f58" stroke="#0a6e3c" stroke-width="0.5"/>
<circle cx="750.4" cy="280.2" r="2.6" fill="#0f9f58" stroke="#0a6e3c" stroke-width="0.5"/>
<circle cx="746.9" cy="271.3" r="2.6" fill="#0f9f58" stroke="#0a6e3c" stroke-width="0.5"/></svg>
</body></html>
